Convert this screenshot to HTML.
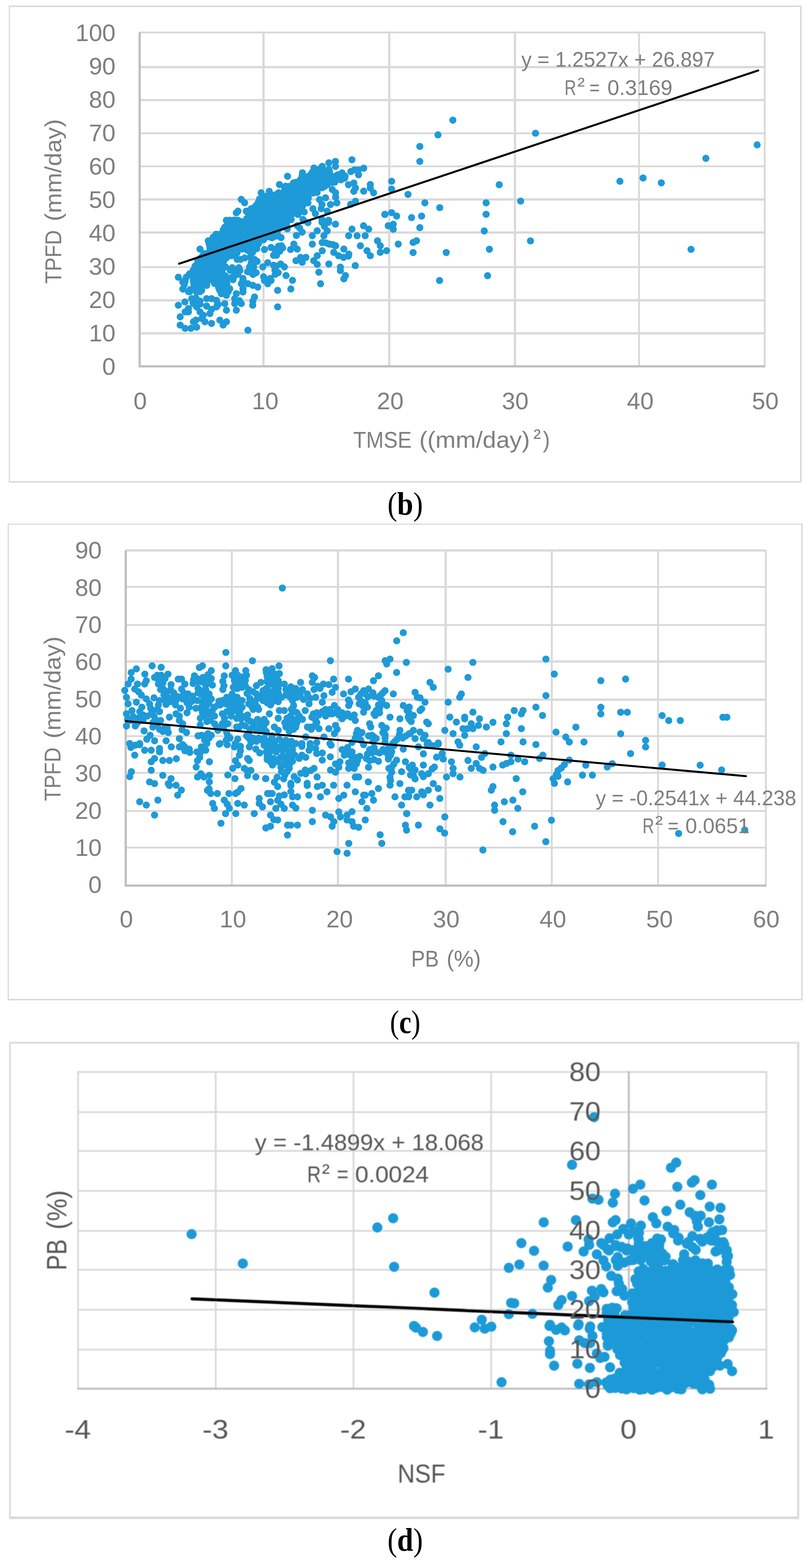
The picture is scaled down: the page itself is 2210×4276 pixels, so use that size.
<!DOCTYPE html>
<html lang="en">
<head>
<meta charset="utf-8">
<title>Scatter plots (b), (c), (d)</title>
<style>
html,body{margin:0;padding:0;background:#fff;}
body{width:2210px;height:4276px;overflow:hidden;}
svg{display:block;}
text{font-family:"Liberation Sans",sans-serif;}
.t{fill:#7f7f7f;}
.d{fill:#575757;}
.cap{font-family:"Liberation Serif",serif;fill:#000;}
.b{font-weight:bold;}
</style>
</head>
<body>
<svg width="2210" height="4276" viewBox="0 0 2210 4276">
<rect width="2210" height="4276" fill="#fff"/>
<g id="chart-b">
<rect x="24" y="15" width="2163" height="4" fill="#d9d9d9"/>
<rect x="24" y="1312" width="2163" height="4" fill="#d9d9d9"/>
<rect x="24" y="15" width="3" height="1301" fill="#d9d9d9"/>
<rect x="2183" y="15" width="4" height="1301" fill="#d9d9d9"/>
<rect x="380" y="86" width="1707" height="5" fill="#d9d9d9"/>
<rect x="380" y="180" width="1707" height="6" fill="#d9d9d9"/>
<rect x="380" y="270" width="1707" height="6" fill="#d9d9d9"/>
<rect x="380" y="361" width="1707" height="5" fill="#d9d9d9"/>
<rect x="380" y="451" width="1707" height="5" fill="#d9d9d9"/>
<rect x="380" y="541" width="1707" height="6" fill="#d9d9d9"/>
<rect x="380" y="631" width="1707" height="6" fill="#d9d9d9"/>
<rect x="380" y="726" width="1707" height="5" fill="#d9d9d9"/>
<rect x="380" y="816" width="1707" height="6" fill="#d9d9d9"/>
<rect x="380" y="906" width="1707" height="6" fill="#d9d9d9"/>
<rect x="716" y="88" width="6" height="914" fill="#d9d9d9"/>
<rect x="1059" y="88" width="6" height="914" fill="#d9d9d9"/>
<rect x="1402" y="88" width="6" height="914" fill="#d9d9d9"/>
<rect x="1741" y="88" width="5" height="914" fill="#d9d9d9"/>
<rect x="2084" y="88" width="5" height="914" fill="#d9d9d9"/>
<rect x="378" y="88" width="6" height="914" fill="#bfbfbf"/>
<rect x="378" y="996" width="1709" height="6" fill="#bfbfbf"/>
<g fill="#1e9ad8" transform="translate(0 0.3)">
<circle cx="860.5" cy="463.6" r="9.7"/><circle cx="868.5" cy="463.1" r="9.7"/><circle cx="874.6" cy="459.3" r="9.7"/><circle cx="883.8" cy="465.4" r="9.7"/><circle cx="898.5" cy="465.7" r="9.7"/><circle cx="851.8" cy="469.6" r="9.7"/>
<circle cx="860.1" cy="470.6" r="9.7"/><circle cx="873" cy="471.2" r="9.7"/><circle cx="880.8" cy="473.6" r="9.7"/><circle cx="895.5" cy="470.9" r="9.7"/><circle cx="899.1" cy="467.9" r="9.7"/><circle cx="930.8" cy="473.2" r="9.7"/>
<circle cx="824.2" cy="479.5" r="9.7"/><circle cx="837.5" cy="481.8" r="9.7"/><circle cx="847" cy="476.6" r="9.7"/><circle cx="859.3" cy="476.9" r="9.7"/><circle cx="869.2" cy="477.6" r="9.7"/><circle cx="876" cy="481.9" r="9.7"/>
<circle cx="884.6" cy="477.4" r="9.7"/><circle cx="897.2" cy="481.5" r="9.7"/><circle cx="909.5" cy="481.2" r="9.7"/><circle cx="920.2" cy="479.9" r="9.7"/><circle cx="930.3" cy="477" r="9.7"/><circle cx="935.2" cy="480.1" r="9.7"/>
<circle cx="821.3" cy="488" r="9.7"/><circle cx="832.3" cy="486.2" r="9.7"/><circle cx="840.1" cy="489.5" r="9.7"/><circle cx="853.1" cy="488.8" r="9.7"/><circle cx="864.6" cy="489.4" r="9.7"/><circle cx="874.6" cy="486.7" r="9.7"/>
<circle cx="883.8" cy="490.8" r="9.7"/><circle cx="894.9" cy="487.3" r="9.7"/><circle cx="900.8" cy="491.6" r="9.7"/><circle cx="910.2" cy="492.1" r="9.7"/><circle cx="924.8" cy="486" r="9.7"/><circle cx="930.3" cy="490.2" r="9.7"/>
<circle cx="940.4" cy="485.8" r="9.7"/><circle cx="808" cy="496.6" r="9.7"/><circle cx="817.8" cy="497.3" r="9.7"/><circle cx="830.5" cy="499.4" r="9.7"/><circle cx="835.4" cy="500.2" r="9.7"/><circle cx="848.8" cy="499.3" r="9.7"/>
<circle cx="859.3" cy="496.6" r="9.7"/><circle cx="869.9" cy="500" r="9.7"/><circle cx="878.5" cy="499.2" r="9.7"/><circle cx="889" cy="496.6" r="9.7"/><circle cx="898.7" cy="494.3" r="9.7"/><circle cx="906" cy="497.1" r="9.7"/>
<circle cx="913.7" cy="496.3" r="9.7"/><circle cx="789.7" cy="507.8" r="9.7"/><circle cx="801.4" cy="508.8" r="9.7"/><circle cx="813.9" cy="502.9" r="9.7"/><circle cx="825.5" cy="509.1" r="9.7"/><circle cx="829.1" cy="508.8" r="9.7"/>
<circle cx="841.6" cy="505.9" r="9.7"/><circle cx="855.4" cy="504.2" r="9.7"/><circle cx="862.3" cy="509.1" r="9.7"/><circle cx="873.7" cy="505.8" r="9.7"/><circle cx="885.5" cy="508.2" r="9.7"/><circle cx="892.9" cy="503.3" r="9.7"/>
<circle cx="776.6" cy="513" r="9.7"/><circle cx="789.3" cy="513.8" r="9.7"/><circle cx="798.2" cy="518.1" r="9.7"/><circle cx="805.9" cy="515" r="9.7"/><circle cx="818.8" cy="517.7" r="9.7"/><circle cx="826.6" cy="513.8" r="9.7"/>
<circle cx="834.3" cy="517.3" r="9.7"/><circle cx="844.2" cy="511.8" r="9.7"/><circle cx="857.6" cy="514.6" r="9.7"/><circle cx="868.4" cy="513.3" r="9.7"/><circle cx="879.1" cy="511.7" r="9.7"/><circle cx="760.2" cy="525.3" r="9.7"/>
<circle cx="772.3" cy="525.3" r="9.7"/><circle cx="781.4" cy="522.3" r="9.7"/><circle cx="795.4" cy="524.6" r="9.7"/><circle cx="802.1" cy="523.7" r="9.7"/><circle cx="813.7" cy="524.9" r="9.7"/><circle cx="825" cy="522.8" r="9.7"/>
<circle cx="834.4" cy="524.6" r="9.7"/><circle cx="844.6" cy="525.6" r="9.7"/><circle cx="854.5" cy="526.1" r="9.7"/><circle cx="865.3" cy="524.4" r="9.7"/><circle cx="725.5" cy="535.5" r="9.7"/><circle cx="738.2" cy="530.3" r="9.7"/>
<circle cx="743.7" cy="531.9" r="9.7"/><circle cx="756.2" cy="534.2" r="9.7"/><circle cx="768.6" cy="532.9" r="9.7"/><circle cx="774.7" cy="529.7" r="9.7"/><circle cx="785.9" cy="530.4" r="9.7"/><circle cx="799.7" cy="532.2" r="9.7"/>
<circle cx="808.1" cy="535.6" r="9.7"/><circle cx="815.5" cy="532.4" r="9.7"/><circle cx="824.7" cy="534" r="9.7"/><circle cx="833.6" cy="534.4" r="9.7"/><circle cx="715.2" cy="541.2" r="9.7"/><circle cx="723.7" cy="539.6" r="9.7"/>
<circle cx="734.4" cy="538" r="9.7"/><circle cx="739.6" cy="538" r="9.7"/><circle cx="753.4" cy="542.3" r="9.7"/><circle cx="759.9" cy="540.1" r="9.7"/><circle cx="774.5" cy="541.5" r="9.7"/><circle cx="779.3" cy="538.9" r="9.7"/>
<circle cx="789.7" cy="538.2" r="9.7"/><circle cx="801.5" cy="537.8" r="9.7"/><circle cx="815.1" cy="540.3" r="9.7"/><circle cx="822.2" cy="541.8" r="9.7"/><circle cx="834" cy="543.1" r="9.7"/><circle cx="841.3" cy="539.6" r="9.7"/>
<circle cx="704.5" cy="551.8" r="9.7"/><circle cx="715.6" cy="552.3" r="9.7"/><circle cx="725.3" cy="550" r="9.7"/><circle cx="739.4" cy="547.3" r="9.7"/><circle cx="747.5" cy="546.5" r="9.7"/><circle cx="753.9" cy="547.3" r="9.7"/>
<circle cx="770.5" cy="552.6" r="9.7"/><circle cx="778.2" cy="548.2" r="9.7"/><circle cx="788.3" cy="551.2" r="9.7"/><circle cx="796.3" cy="550.2" r="9.7"/><circle cx="809.3" cy="546.1" r="9.7"/><circle cx="815" cy="549.3" r="9.7"/>
<circle cx="824.6" cy="548.7" r="9.7"/><circle cx="837.6" cy="547.2" r="9.7"/><circle cx="700.2" cy="559.9" r="9.7"/><circle cx="712.6" cy="561" r="9.7"/><circle cx="719.3" cy="560.3" r="9.7"/><circle cx="729.5" cy="558.5" r="9.7"/>
<circle cx="745.3" cy="554.7" r="9.7"/><circle cx="750.3" cy="556.8" r="9.7"/><circle cx="760.9" cy="555.1" r="9.7"/><circle cx="774.9" cy="560.4" r="9.7"/><circle cx="781.4" cy="557.2" r="9.7"/><circle cx="792.7" cy="555" r="9.7"/>
<circle cx="798.8" cy="561" r="9.7"/><circle cx="810.8" cy="558.2" r="9.7"/><circle cx="825.2" cy="561.6" r="9.7"/><circle cx="685.4" cy="569" r="9.7"/><circle cx="694.2" cy="565.4" r="9.7"/><circle cx="708.9" cy="565.1" r="9.7"/>
<circle cx="715.6" cy="567.2" r="9.7"/><circle cx="724.9" cy="569.7" r="9.7"/><circle cx="740.5" cy="563.6" r="9.7"/><circle cx="746.9" cy="568.7" r="9.7"/><circle cx="756.3" cy="569.9" r="9.7"/><circle cx="767.1" cy="564.7" r="9.7"/>
<circle cx="777.5" cy="567.9" r="9.7"/><circle cx="786.1" cy="568" r="9.7"/><circle cx="799.1" cy="567" r="9.7"/><circle cx="807.2" cy="569.3" r="9.7"/><circle cx="818.4" cy="567.1" r="9.7"/><circle cx="682.1" cy="577.4" r="9.7"/>
<circle cx="695.5" cy="573.1" r="9.7"/><circle cx="701.8" cy="577.3" r="9.7"/><circle cx="708.9" cy="573.8" r="9.7"/><circle cx="724.9" cy="573.1" r="9.7"/><circle cx="731.4" cy="574.2" r="9.7"/><circle cx="741.6" cy="572.6" r="9.7"/>
<circle cx="748.9" cy="579.1" r="9.7"/><circle cx="764" cy="577.2" r="9.7"/><circle cx="770.2" cy="573.9" r="9.7"/><circle cx="782.5" cy="573.8" r="9.7"/><circle cx="801.2" cy="574.5" r="9.7"/><circle cx="815.5" cy="576.4" r="9.7"/>
<circle cx="818.9" cy="574.9" r="9.7"/><circle cx="677.3" cy="581.2" r="9.7"/><circle cx="686.4" cy="582.5" r="9.7"/><circle cx="693.9" cy="581.9" r="9.7"/><circle cx="707.8" cy="581" r="9.7"/><circle cx="715.8" cy="583.8" r="9.7"/>
<circle cx="727.4" cy="581.8" r="9.7"/><circle cx="738.6" cy="582.6" r="9.7"/><circle cx="748.7" cy="585.5" r="9.7"/><circle cx="754.7" cy="582.2" r="9.7"/><circle cx="805.1" cy="581.1" r="9.7"/><circle cx="672.9" cy="596.2" r="9.7"/>
<circle cx="681.2" cy="593.5" r="9.7"/><circle cx="695.2" cy="594.9" r="9.7"/><circle cx="703" cy="593.9" r="9.7"/><circle cx="711.5" cy="592.4" r="9.7"/><circle cx="720.6" cy="595.3" r="9.7"/><circle cx="734.8" cy="592.2" r="9.7"/>
<circle cx="745" cy="589.8" r="9.7"/><circle cx="749.6" cy="593.1" r="9.7"/><circle cx="760.8" cy="592" r="9.7"/><circle cx="775.5" cy="590.6" r="9.7"/><circle cx="780" cy="591.1" r="9.7"/><circle cx="793.4" cy="591.2" r="9.7"/>
<circle cx="629.2" cy="601" r="9.7"/><circle cx="638.6" cy="600" r="9.7"/><circle cx="648.6" cy="600.5" r="9.7"/><circle cx="656" cy="603.5" r="9.7"/><circle cx="669.5" cy="604" r="9.7"/><circle cx="677.6" cy="601.2" r="9.7"/>
<circle cx="688.6" cy="602.6" r="9.7"/><circle cx="699.4" cy="603.8" r="9.7"/><circle cx="704.5" cy="600.8" r="9.7"/><circle cx="718.3" cy="599.8" r="9.7"/><circle cx="724.9" cy="598.3" r="9.7"/><circle cx="737.7" cy="604.8" r="9.7"/>
<circle cx="750.4" cy="599.1" r="9.7"/><circle cx="758.4" cy="601.1" r="9.7"/><circle cx="768" cy="601" r="9.7"/><circle cx="780.2" cy="605.1" r="9.7"/><circle cx="784" cy="603.2" r="9.7"/><circle cx="794.5" cy="598.5" r="9.7"/>
<circle cx="622" cy="609.8" r="9.7"/><circle cx="634.3" cy="609.7" r="9.7"/><circle cx="639" cy="610.8" r="9.7"/><circle cx="653.2" cy="611.3" r="9.7"/><circle cx="660.6" cy="613.5" r="9.7"/><circle cx="674.7" cy="613.9" r="9.7"/>
<circle cx="681.7" cy="612.7" r="9.7"/><circle cx="693.7" cy="608.1" r="9.7"/><circle cx="698.8" cy="608.1" r="9.7"/><circle cx="709.5" cy="607.4" r="9.7"/><circle cx="721.1" cy="612.2" r="9.7"/><circle cx="730.8" cy="610.5" r="9.7"/>
<circle cx="738.7" cy="608.4" r="9.7"/><circle cx="755.3" cy="607" r="9.7"/><circle cx="762.3" cy="612.6" r="9.7"/><circle cx="774.2" cy="612.1" r="9.7"/><circle cx="781.4" cy="612.5" r="9.7"/><circle cx="615.2" cy="618.5" r="9.7"/>
<circle cx="628.6" cy="616.9" r="9.7"/><circle cx="635.5" cy="620.3" r="9.7"/><circle cx="650.3" cy="617.9" r="9.7"/><circle cx="654.9" cy="618.1" r="9.7"/><circle cx="670.6" cy="616.6" r="9.7"/><circle cx="678.1" cy="618.3" r="9.7"/>
<circle cx="688.1" cy="617.1" r="9.7"/><circle cx="697.9" cy="621.8" r="9.7"/><circle cx="709.6" cy="620" r="9.7"/><circle cx="717.2" cy="619.6" r="9.7"/><circle cx="724.4" cy="621.5" r="9.7"/><circle cx="738.5" cy="618.8" r="9.7"/>
<circle cx="748.3" cy="618.5" r="9.7"/><circle cx="756.3" cy="617.2" r="9.7"/><circle cx="767.8" cy="619.6" r="9.7"/><circle cx="777.2" cy="615.8" r="9.7"/><circle cx="608.9" cy="626.7" r="9.7"/><circle cx="624.7" cy="630.1" r="9.7"/>
<circle cx="629.4" cy="625.6" r="9.7"/><circle cx="641.3" cy="630.3" r="9.7"/><circle cx="652.9" cy="630.6" r="9.7"/><circle cx="659.1" cy="631.2" r="9.7"/><circle cx="670.1" cy="628.7" r="9.7"/><circle cx="684.8" cy="629.4" r="9.7"/>
<circle cx="690" cy="629" r="9.7"/><circle cx="701.6" cy="624.4" r="9.7"/><circle cx="711" cy="626.5" r="9.7"/><circle cx="723" cy="626.3" r="9.7"/><circle cx="732.8" cy="629.2" r="9.7"/><circle cx="739.9" cy="625.2" r="9.7"/>
<circle cx="753.5" cy="627.6" r="9.7"/><circle cx="759.5" cy="625.1" r="9.7"/><circle cx="599.4" cy="639" r="9.7"/><circle cx="607.8" cy="636.8" r="9.7"/><circle cx="614.3" cy="639.3" r="9.7"/><circle cx="624.2" cy="635.6" r="9.7"/>
<circle cx="636.2" cy="638.1" r="9.7"/><circle cx="648.3" cy="635.4" r="9.7"/><circle cx="659.9" cy="639.7" r="9.7"/><circle cx="663.8" cy="637.4" r="9.7"/><circle cx="676.9" cy="635.5" r="9.7"/><circle cx="686.9" cy="635.2" r="9.7"/>
<circle cx="698.3" cy="637.2" r="9.7"/><circle cx="710.4" cy="639.8" r="9.7"/><circle cx="720.6" cy="635.8" r="9.7"/><circle cx="729.4" cy="637.6" r="9.7"/><circle cx="738.5" cy="640" r="9.7"/><circle cx="744.1" cy="636.2" r="9.7"/>
<circle cx="756.4" cy="637.6" r="9.7"/><circle cx="585.4" cy="645.4" r="9.7"/><circle cx="591.5" cy="646" r="9.7"/><circle cx="604.7" cy="648.5" r="9.7"/><circle cx="611.5" cy="641.8" r="9.7"/><circle cx="619.7" cy="647.4" r="9.7"/>
<circle cx="633.8" cy="646.7" r="9.7"/><circle cx="639.7" cy="645.4" r="9.7"/><circle cx="648.8" cy="642.5" r="9.7"/><circle cx="660.7" cy="648.5" r="9.7"/><circle cx="673.1" cy="647.6" r="9.7"/><circle cx="678.9" cy="644.6" r="9.7"/>
<circle cx="689.2" cy="643.5" r="9.7"/><circle cx="699.4" cy="648.1" r="9.7"/><circle cx="710.9" cy="645.1" r="9.7"/><circle cx="723.2" cy="647.9" r="9.7"/><circle cx="735.3" cy="645.7" r="9.7"/><circle cx="742.1" cy="648" r="9.7"/>
<circle cx="751.4" cy="643.8" r="9.7"/><circle cx="575.6" cy="655.2" r="9.7"/><circle cx="584.2" cy="657.3" r="9.7"/><circle cx="599.4" cy="652.7" r="9.7"/><circle cx="605.8" cy="656.1" r="9.7"/><circle cx="619.1" cy="654.9" r="9.7"/>
<circle cx="624" cy="655.8" r="9.7"/><circle cx="634" cy="654.8" r="9.7"/><circle cx="647.5" cy="656.9" r="9.7"/><circle cx="658.1" cy="650.6" r="9.7"/><circle cx="670.2" cy="655.7" r="9.7"/><circle cx="677.7" cy="650.4" r="9.7"/>
<circle cx="688.8" cy="653.3" r="9.7"/><circle cx="698.4" cy="657.3" r="9.7"/><circle cx="710" cy="650.9" r="9.7"/><circle cx="719.1" cy="653.5" r="9.7"/><circle cx="570.5" cy="664.2" r="9.7"/><circle cx="582.7" cy="660.9" r="9.7"/>
<circle cx="589.1" cy="664.9" r="9.7"/><circle cx="601.3" cy="664.1" r="9.7"/><circle cx="611.7" cy="663.4" r="9.7"/><circle cx="622.5" cy="665.9" r="9.7"/><circle cx="635" cy="662.3" r="9.7"/><circle cx="642" cy="660.7" r="9.7"/>
<circle cx="653.9" cy="659.8" r="9.7"/><circle cx="660.8" cy="665" r="9.7"/><circle cx="668.9" cy="664" r="9.7"/><circle cx="682.6" cy="663" r="9.7"/><circle cx="691" cy="660.2" r="9.7"/><circle cx="705.3" cy="664.5" r="9.7"/>
<circle cx="575.3" cy="674.5" r="9.7"/><circle cx="584.4" cy="674.4" r="9.7"/><circle cx="598.2" cy="668.3" r="9.7"/><circle cx="609.9" cy="668.5" r="9.7"/><circle cx="617.6" cy="668.6" r="9.7"/><circle cx="630.5" cy="670" r="9.7"/>
<circle cx="639.7" cy="668.2" r="9.7"/><circle cx="648.3" cy="668.3" r="9.7"/><circle cx="653.8" cy="671.8" r="9.7"/><circle cx="670.5" cy="672.6" r="9.7"/><circle cx="679.6" cy="673.3" r="9.7"/><circle cx="687.3" cy="668.3" r="9.7"/>
<circle cx="697.3" cy="669.1" r="9.7"/><circle cx="573.4" cy="679.7" r="9.7"/><circle cx="580.3" cy="682.7" r="9.7"/><circle cx="589.9" cy="677.6" r="9.7"/><circle cx="600.4" cy="679.9" r="9.7"/><circle cx="614.1" cy="678.8" r="9.7"/>
<circle cx="620.3" cy="681.1" r="9.7"/><circle cx="630.4" cy="680.2" r="9.7"/><circle cx="640.4" cy="682.6" r="9.7"/><circle cx="649.9" cy="678.1" r="9.7"/><circle cx="660.7" cy="678.8" r="9.7"/><circle cx="673.7" cy="681.2" r="9.7"/>
<circle cx="684.2" cy="680.3" r="9.7"/><circle cx="689.2" cy="681.9" r="9.7"/><circle cx="700.3" cy="678" r="9.7"/><circle cx="569" cy="688.9" r="9.7"/><circle cx="580.3" cy="685.8" r="9.7"/><circle cx="585.2" cy="685.7" r="9.7"/>
<circle cx="595.8" cy="690.5" r="9.7"/><circle cx="610.1" cy="688.7" r="9.7"/><circle cx="614.7" cy="687.5" r="9.7"/><circle cx="627.6" cy="687.3" r="9.7"/><circle cx="639.2" cy="692" r="9.7"/><circle cx="646.8" cy="689.4" r="9.7"/>
<circle cx="680.5" cy="685.4" r="9.7"/><circle cx="689" cy="688" r="9.7"/><circle cx="553" cy="697.1" r="9.7"/><circle cx="559.3" cy="697.4" r="9.7"/><circle cx="572" cy="698.4" r="9.7"/><circle cx="585.4" cy="695.9" r="9.7"/>
<circle cx="591.7" cy="694.5" r="9.7"/><circle cx="604.2" cy="695.6" r="9.7"/><circle cx="614.4" cy="699.5" r="9.7"/><circle cx="620.4" cy="700.2" r="9.7"/><circle cx="632.2" cy="696.9" r="9.7"/><circle cx="545.8" cy="704.5" r="9.7"/>
<circle cx="554.9" cy="707.1" r="9.7"/><circle cx="568.4" cy="709.2" r="9.7"/><circle cx="575.9" cy="709.1" r="9.7"/><circle cx="590" cy="704.6" r="9.7"/><circle cx="600.3" cy="706.9" r="9.7"/><circle cx="610.4" cy="708" r="9.7"/>
<circle cx="616" cy="704.6" r="9.7"/><circle cx="539.5" cy="711.7" r="9.7"/><circle cx="551.9" cy="711.4" r="9.7"/><circle cx="559.1" cy="714" r="9.7"/><circle cx="571.9" cy="712" r="9.7"/><circle cx="585.3" cy="717.3" r="9.7"/>
<circle cx="592" cy="715.4" r="9.7"/><circle cx="600.8" cy="718.2" r="9.7"/><circle cx="609.5" cy="713.4" r="9.7"/><circle cx="540.5" cy="721" r="9.7"/><circle cx="549.1" cy="722.3" r="9.7"/><circle cx="558.7" cy="726.7" r="9.7"/>
<circle cx="565.5" cy="724" r="9.7"/><circle cx="577.3" cy="723.5" r="9.7"/><circle cx="584.8" cy="724.4" r="9.7"/><circle cx="599.9" cy="724.7" r="9.7"/><circle cx="605.7" cy="725.7" r="9.7"/><circle cx="540.2" cy="733.7" r="9.7"/>
<circle cx="549" cy="733.6" r="9.7"/><circle cx="559.1" cy="734.6" r="9.7"/><circle cx="572.4" cy="732.8" r="9.7"/><circle cx="579.3" cy="729" r="9.7"/><circle cx="591.1" cy="735.6" r="9.7"/><circle cx="550.6" cy="737.5" r="9.7"/>
<circle cx="554.7" cy="740.1" r="9.7"/><circle cx="597.8" cy="741.5" r="9.7"/><circle cx="1461" cy="363.1" r="9.7"/><circle cx="1420.5" cy="548.2" r="9.7"/><circle cx="1447.3" cy="656.6" r="9.7"/><circle cx="1691.3" cy="494" r="9.7"/>
<circle cx="1754.5" cy="485.1" r="9.7"/><circle cx="1804.4" cy="498.3" r="9.7"/><circle cx="1925.9" cy="431.5" r="9.7"/><circle cx="2065.8" cy="394.7" r="9.7"/><circle cx="1885.4" cy="679.7" r="9.7"/><circle cx="1235.6" cy="327.3" r="9.7"/>
<circle cx="1195" cy="367.5" r="9.7"/><circle cx="1145.4" cy="399.1" r="9.7"/><circle cx="1145.4" cy="440" r="9.7"/><circle cx="1068.5" cy="494.1" r="9.7"/><circle cx="1068.5" cy="515.4" r="9.7"/><circle cx="1113.2" cy="529.8" r="9.7"/>
<circle cx="1362.1" cy="503.4" r="9.7"/><circle cx="1159.2" cy="552.9" r="9.7"/><circle cx="1199.8" cy="566.1" r="9.7"/><circle cx="1326.3" cy="552.9" r="9.7"/><circle cx="1050.4" cy="584.1" r="9.7"/><circle cx="1068.5" cy="579.6" r="9.7"/>
<circle cx="1082.3" cy="589" r="9.7"/><circle cx="1122.9" cy="593.2" r="9.7"/><circle cx="1150.2" cy="589" r="9.7"/><circle cx="1326.3" cy="584.1" r="9.7"/><circle cx="1059.2" cy="615.4" r="9.7"/><circle cx="1073" cy="611.2" r="9.7"/>
<circle cx="1073" cy="624.7" r="9.7"/><circle cx="1145.4" cy="620.5" r="9.7"/><circle cx="1321.2" cy="629.5" r="9.7"/><circle cx="1030" cy="656.3" r="9.7"/><circle cx="1037.5" cy="669.8" r="9.7"/><circle cx="1037.5" cy="687.8" r="9.7"/>
<circle cx="1054.9" cy="683.3" r="9.7"/><circle cx="1086.5" cy="665.3" r="9.7"/><circle cx="1127.1" cy="660.8" r="9.7"/><circle cx="1136.4" cy="656.3" r="9.7"/><circle cx="1127.1" cy="688.4" r="9.7"/><circle cx="1217.5" cy="688.4" r="9.7"/>
<circle cx="1335.3" cy="679.4" r="9.7"/><circle cx="1199.3" cy="764.7" r="9.7"/><circle cx="1330.3" cy="751.5" r="9.7"/><circle cx="960.3" cy="435.3" r="9.7"/><circle cx="915.2" cy="439.8" r="9.7"/><circle cx="897.2" cy="443.7" r="9.7"/>
<circle cx="915.2" cy="453.4" r="9.7"/><circle cx="879.2" cy="453.4" r="9.7"/><circle cx="856.6" cy="457.9" r="9.7"/><circle cx="897.2" cy="461.7" r="9.7"/><circle cx="825.1" cy="470.9" r="9.7"/><circle cx="784.5" cy="480.4" r="9.7"/>
<circle cx="992.3" cy="458.3" r="9.7"/><circle cx="977.6" cy="462.8" r="9.7"/><circle cx="967.5" cy="462.8" r="9.7"/><circle cx="957.4" cy="467.3" r="9.7"/><circle cx="978.3" cy="476.3" r="9.7"/><circle cx="933.2" cy="471.2" r="9.7"/>
<circle cx="941.6" cy="479.7" r="9.7"/><circle cx="921.3" cy="476.3" r="9.7"/><circle cx="762.4" cy="502.9" r="9.7"/><circle cx="779.3" cy="507.5" r="9.7"/><circle cx="800.7" cy="498.4" r="9.7"/><circle cx="819.9" cy="489.9" r="9.7"/>
<circle cx="965.3" cy="498.9" r="9.7"/><circle cx="969.8" cy="512.4" r="9.7"/><circle cx="965.3" cy="521.4" r="9.7"/><circle cx="950.6" cy="503.4" r="9.7"/><circle cx="1010.3" cy="502.9" r="9.7"/><circle cx="1010.3" cy="512.4" r="9.7"/>
<circle cx="1019.3" cy="525.5" r="9.7"/><circle cx="992.3" cy="521" r="9.7"/><circle cx="906.6" cy="516.5" r="9.7"/><circle cx="915.7" cy="525.5" r="9.7"/><circle cx="915.7" cy="537.2" r="9.7"/><circle cx="919" cy="553" r="9.7"/>
<circle cx="901.7" cy="557.5" r="9.7"/><circle cx="969.8" cy="548.5" r="9.7"/><circle cx="956.7" cy="557" r="9.7"/><circle cx="1049.8" cy="584.5" r="9.7"/><circle cx="888.2" cy="539" r="9.7"/><circle cx="871.7" cy="544" r="9.7"/>
<circle cx="878.5" cy="557" r="9.7"/><circle cx="876.2" cy="568.8" r="9.7"/><circle cx="892.7" cy="575.5" r="9.7"/><circle cx="853.7" cy="568.8" r="9.7"/><circle cx="860.4" cy="582.3" r="9.7"/><circle cx="840.2" cy="553" r="9.7"/>
<circle cx="833.4" cy="553" r="9.7"/><circle cx="830" cy="577.8" r="9.7"/><circle cx="813.1" cy="584.5" r="9.7"/><circle cx="795.1" cy="582.3" r="9.7"/><circle cx="826.6" cy="598.1" r="9.7"/><circle cx="878.5" cy="598.1" r="9.7"/>
<circle cx="896.5" cy="600.3" r="9.7"/><circle cx="658.3" cy="543.5" r="9.7"/><circle cx="667.4" cy="552.5" r="9.7"/><circle cx="712.4" cy="525.5" r="9.7"/><circle cx="734.5" cy="521.4" r="9.7"/><circle cx="753" cy="530.4" r="9.7"/>
<circle cx="707.9" cy="542.8" r="9.7"/><circle cx="698.9" cy="559.7" r="9.7"/><circle cx="649.3" cy="575.5" r="9.7"/><circle cx="644.8" cy="580" r="9.7"/><circle cx="671.9" cy="575.5" r="9.7"/><circle cx="617.8" cy="600.3" r="9.7"/>
<circle cx="626.8" cy="600.3" r="9.7"/><circle cx="644.8" cy="600.3" r="9.7"/><circle cx="617.8" cy="601.3" r="9.7"/><circle cx="613.3" cy="619.3" r="9.7"/><circle cx="589.6" cy="638.5" r="9.7"/><circle cx="581.7" cy="646.3" r="9.7"/>
<circle cx="568.2" cy="656.5" r="9.7"/><circle cx="572.7" cy="673.4" r="9.7"/><circle cx="545.6" cy="679" r="9.7"/><circle cx="556.9" cy="691.4" r="9.7"/><circle cx="532.1" cy="725.2" r="9.7"/><circle cx="486.6" cy="755.7" r="9.7"/>
<circle cx="505.1" cy="763.6" r="9.7"/><circle cx="516.3" cy="747.8" r="9.7"/><circle cx="527.6" cy="743.3" r="9.7"/><circle cx="721.5" cy="680.2" r="9.7"/><circle cx="739.5" cy="674.5" r="9.7"/><circle cx="760" cy="671.1" r="9.7"/>
<circle cx="746.3" cy="695.9" r="9.7"/><circle cx="730.5" cy="716.2" r="9.7"/><circle cx="716.9" cy="727.5" r="9.7"/><circle cx="694.4" cy="707.2" r="9.7"/><circle cx="685.4" cy="716.2" r="9.7"/><circle cx="680.9" cy="727.5" r="9.7"/>
<circle cx="685.4" cy="743.3" r="9.7"/><circle cx="698.9" cy="743.3" r="9.7"/><circle cx="719.2" cy="754.5" r="9.7"/><circle cx="746.3" cy="723" r="9.7"/><circle cx="750.8" cy="747.8" r="9.7"/><circle cx="737.2" cy="759" r="9.7"/>
<circle cx="662.9" cy="759" r="9.7"/><circle cx="656.1" cy="707.2" r="9.7"/><circle cx="647.1" cy="707.2" r="9.7"/><circle cx="633.6" cy="729.7" r="9.7"/><circle cx="651.6" cy="729.7" r="9.7"/><circle cx="640.3" cy="743.3" r="9.7"/>
<circle cx="649.3" cy="747.8" r="9.7"/><circle cx="631.3" cy="756.8" r="9.7"/><circle cx="617.8" cy="756.8" r="9.7"/><circle cx="604.3" cy="759" r="9.7"/><circle cx="586.2" cy="761.3" r="9.7"/><circle cx="568.2" cy="763.6" r="9.7"/>
<circle cx="545.6" cy="756.8" r="9.7"/><circle cx="527.6" cy="761.3" r="9.7"/><circle cx="828.9" cy="601.3" r="9.7"/><circle cx="840.2" cy="606.9" r="9.7"/><circle cx="810.9" cy="614.8" r="9.7"/><circle cx="817.6" cy="621.6" r="9.7"/>
<circle cx="824.4" cy="632.8" r="9.7"/><circle cx="808.6" cy="641.8" r="9.7"/><circle cx="783.8" cy="623.8" r="9.7"/><circle cx="878.5" cy="605.8" r="9.7"/><circle cx="885.2" cy="617" r="9.7"/><circle cx="896.5" cy="605.8" r="9.7"/>
<circle cx="915.2" cy="611" r="9.7"/><circle cx="865.4" cy="629" r="9.7"/><circle cx="852.1" cy="642.5" r="9.7"/><circle cx="892.7" cy="629.4" r="9.7"/><circle cx="883.7" cy="642.5" r="9.7"/><circle cx="759" cy="643" r="9.7"/>
<circle cx="766.9" cy="647.5" r="9.7"/><circle cx="852.1" cy="665.5" r="9.7"/><circle cx="879.2" cy="661" r="9.7"/><circle cx="889.7" cy="662.1" r="9.7"/><circle cx="898.8" cy="665.5" r="9.7"/><circle cx="907.8" cy="666.6" r="9.7"/>
<circle cx="915.7" cy="670" r="9.7"/><circle cx="768" cy="670" r="9.7"/><circle cx="771.4" cy="675.6" r="9.7"/><circle cx="763.5" cy="684.7" r="9.7"/><circle cx="754.5" cy="695.9" r="9.7"/><circle cx="750" cy="680.2" r="9.7"/>
<circle cx="801.8" cy="665.5" r="9.7"/><circle cx="792.8" cy="680.2" r="9.7"/><circle cx="810.9" cy="679" r="9.7"/><circle cx="938.2" cy="679" r="9.7"/><circle cx="910.7" cy="688" r="9.7"/><circle cx="879.2" cy="683.5" r="9.7"/>
<circle cx="923.6" cy="697.1" r="9.7"/><circle cx="937.1" cy="701.6" r="9.7"/><circle cx="951.7" cy="692.6" r="9.7"/><circle cx="950.6" cy="698.2" r="9.7"/><circle cx="865.6" cy="697.1" r="9.7"/><circle cx="855.9" cy="710.6" r="9.7"/>
<circle cx="865.6" cy="720.7" r="9.7"/><circle cx="897.2" cy="719.6" r="9.7"/><circle cx="819.9" cy="701.6" r="9.7"/><circle cx="834.5" cy="701.6" r="9.7"/><circle cx="807.5" cy="710.6" r="9.7"/><circle cx="824.4" cy="715.1" r="9.7"/>
<circle cx="765.8" cy="719.6" r="9.7"/><circle cx="775.9" cy="727.5" r="9.7"/><circle cx="754.5" cy="725.2" r="9.7"/><circle cx="759" cy="743.3" r="9.7"/><circle cx="750" cy="736.5" r="9.7"/><circle cx="780.4" cy="751.2" r="9.7"/>
<circle cx="798" cy="764.2" r="9.7"/><circle cx="870.1" cy="742.1" r="9.7"/><circle cx="928.7" cy="728.2" r="9.7"/><circle cx="928.7" cy="737.6" r="9.7"/><circle cx="942.7" cy="751.2" r="9.7"/><circle cx="938.2" cy="760.2" r="9.7"/>
<circle cx="969.3" cy="724.1" r="9.7"/><circle cx="960.3" cy="624.5" r="9.7"/><circle cx="951.3" cy="642.5" r="9.7"/><circle cx="974.3" cy="642.5" r="9.7"/><circle cx="991.8" cy="615.5" r="9.7"/><circle cx="1005.8" cy="624.5" r="9.7"/>
<circle cx="996.4" cy="642.5" r="9.7"/><circle cx="983.3" cy="670" r="9.7"/><circle cx="1001.3" cy="683.5" r="9.7"/><circle cx="1010.3" cy="697.1" r="9.7"/><circle cx="505.1" cy="766.8" r="9.7"/><circle cx="502.8" cy="775.8" r="9.7"/>
<circle cx="499.4" cy="788.2" r="9.7"/><circle cx="514.1" cy="794.9" r="9.7"/><circle cx="518.6" cy="789.3" r="9.7"/><circle cx="532.1" cy="778" r="9.7"/><circle cx="543.4" cy="766.8" r="9.7"/><circle cx="563.7" cy="778" r="9.7"/>
<circle cx="550.2" cy="791.6" r="9.7"/><circle cx="536.6" cy="796.1" r="9.7"/><circle cx="527.6" cy="766.8" r="9.7"/><circle cx="586.2" cy="771.3" r="9.7"/><circle cx="599.7" cy="766.8" r="9.7"/><circle cx="617.8" cy="769" r="9.7"/>
<circle cx="604.3" cy="782.5" r="9.7"/><circle cx="626.8" cy="787" r="9.7"/><circle cx="599.7" cy="791.6" r="9.7"/><circle cx="608.8" cy="798.3" r="9.7"/><circle cx="617.8" cy="805.1" r="9.7"/><circle cx="635.8" cy="762.3" r="9.7"/>
<circle cx="658.3" cy="773.5" r="9.7"/><circle cx="662.9" cy="764.5" r="9.7"/><circle cx="676.4" cy="773.5" r="9.7"/><circle cx="689.9" cy="778" r="9.7"/><circle cx="703.4" cy="782.5" r="9.7"/><circle cx="662.9" cy="787" r="9.7"/>
<circle cx="662.9" cy="796.1" r="9.7"/><circle cx="644.8" cy="800.6" r="9.7"/><circle cx="721.5" cy="764.5" r="9.7"/><circle cx="730.5" cy="773.5" r="9.7"/><circle cx="739.5" cy="764.5" r="9.7"/><circle cx="757.5" cy="791.6" r="9.7"/>
<circle cx="757.5" cy="836.6" r="9.7"/><circle cx="694.4" cy="809.6" r="9.7"/><circle cx="689.9" cy="820.9" r="9.7"/><circle cx="689.5" cy="832.1" r="9.7"/><circle cx="640.3" cy="814.1" r="9.7"/><circle cx="640.3" cy="827.6" r="9.7"/>
<circle cx="653.8" cy="820.9" r="9.7"/><circle cx="658.3" cy="827.6" r="9.7"/><circle cx="644.8" cy="845.6" r="9.7"/><circle cx="613.3" cy="827.6" r="9.7"/><circle cx="617.8" cy="845.6" r="9.7"/><circle cx="486.6" cy="832.1" r="9.7"/>
<circle cx="504.6" cy="823.1" r="9.7"/><circle cx="523.1" cy="814.1" r="9.7"/><circle cx="534.4" cy="816.3" r="9.7"/><circle cx="545.6" cy="820.9" r="9.7"/><circle cx="563.7" cy="814.1" r="9.7"/><circle cx="577.2" cy="814.1" r="9.7"/>
<circle cx="590.7" cy="818.6" r="9.7"/><circle cx="595.2" cy="829.9" r="9.7"/><circle cx="590.7" cy="836.6" r="9.7"/><circle cx="577.2" cy="843.4" r="9.7"/><circle cx="563.7" cy="834.4" r="9.7"/><circle cx="527.6" cy="827.6" r="9.7"/>
<circle cx="536.6" cy="836.6" r="9.7"/><circle cx="514.1" cy="841.1" r="9.7"/><circle cx="505.1" cy="850.2" r="9.7"/><circle cx="514.1" cy="850.2" r="9.7"/><circle cx="491.6" cy="863.7" r="9.7"/><circle cx="545.6" cy="850.2" r="9.7"/>
<circle cx="554.7" cy="859.2" r="9.7"/><circle cx="572.7" cy="854.7" r="9.7"/><circle cx="550.2" cy="868.2" r="9.7"/><circle cx="559.2" cy="877.2" r="9.7"/><circle cx="491.6" cy="886.2" r="9.7"/><circle cx="505.1" cy="895.2" r="9.7"/>
<circle cx="520.9" cy="895.2" r="9.7"/><circle cx="536.6" cy="891.9" r="9.7"/><circle cx="527.6" cy="877.2" r="9.7"/><circle cx="534.4" cy="872.7" r="9.7"/><circle cx="577.2" cy="881.7" r="9.7"/><circle cx="599.7" cy="872.7" r="9.7"/>
<circle cx="617.8" cy="877.2" r="9.7"/><circle cx="608.8" cy="886.2" r="9.7"/><circle cx="676.4" cy="900.2" r="9.7"/><circle cx="793.5" cy="787.7" r="9.7"/><circle cx="874.6" cy="773.5" r="9.7"/><circle cx="536.3" cy="746.3" r="9.7"/>
<circle cx="551.4" cy="744.5" r="9.7"/><circle cx="564.5" cy="746.3" r="9.7"/><circle cx="577.7" cy="746.3" r="9.7"/><circle cx="592.7" cy="744.5" r="9.7"/><circle cx="605.8" cy="740.7" r="9.7"/><circle cx="536.3" cy="759.5" r="9.7"/>
<circle cx="551.4" cy="759.5" r="9.7"/><circle cx="564.5" cy="759.5" r="9.7"/><circle cx="577.7" cy="761.4" r="9.7"/><circle cx="592.7" cy="761.4" r="9.7"/><circle cx="607.7" cy="761.4" r="9.7"/><circle cx="615.2" cy="752" r="9.7"/>
<circle cx="615.2" cy="727.6" r="9.7"/><circle cx="527" cy="737" r="9.7"/><circle cx="542" cy="733.2" r="9.7"/><circle cx="558.9" cy="733.2" r="9.7"/><circle cx="573.9" cy="733.2" r="9.7"/><circle cx="588.9" cy="731.3" r="9.7"/>
<circle cx="602.1" cy="727.6" r="9.7"/><circle cx="592.7" cy="774.5" r="9.7"/><circle cx="611.5" cy="774.5" r="9.7"/><circle cx="619" cy="772.6" r="9.7"/><circle cx="609.6" cy="787.7" r="9.7"/><circle cx="622.7" cy="795.2" r="9.7"/>
<circle cx="604" cy="800.8" r="9.7"/><circle cx="585.2" cy="772.6" r="9.7"/><circle cx="596.5" cy="783.9" r="9.7"/><circle cx="517.6" cy="746.3" r="9.7"/><circle cx="508.2" cy="755.7" r="9.7"/><circle cx="528.8" cy="752" r="9.7"/>
<circle cx="498.8" cy="768.9" r="9.7"/><circle cx="528.8" cy="774.5" r="9.7"/><circle cx="542" cy="778.3" r="9.7"/><circle cx="555.1" cy="778.3" r="9.7"/><circle cx="534.5" cy="791.4" r="9.7"/><circle cx="517.6" cy="795.2" r="9.7"/>
<circle cx="545.7" cy="795.2" r="9.7"/><circle cx="498.8" cy="787.7" r="9.7"/><circle cx="555.1" cy="768.9" r="9.7"/><circle cx="564.5" cy="772.6" r="9.7"/><circle cx="641.5" cy="735.1" r="9.7"/><circle cx="628.4" cy="737" r="9.7"/>
<circle cx="654.7" cy="737" r="9.7"/><circle cx="639.7" cy="752" r="9.7"/><circle cx="667.8" cy="703.1" r="9.7"/><circle cx="682.9" cy="701.3" r="9.7"/><circle cx="701.6" cy="712.5" r="9.7"/><circle cx="692.2" cy="727.6" r="9.7"/>
<circle cx="690.4" cy="748.2" r="9.7"/><circle cx="675.3" cy="740.7" r="9.7"/><circle cx="534.5" cy="812.1" r="9.7"/><circle cx="527" cy="825.2" r="9.7"/><circle cx="545.7" cy="829" r="9.7"/><circle cx="592.7" cy="832.7" r="9.7"/>
<circle cx="652.8" cy="819.6" r="9.7"/>
</g>
<line x1="488.6" y1="719.2" x2="2068.6" y2="192.1" stroke="#000" stroke-width="5.5" stroke-linecap="round"/>
<text class="t" x="315.3" y="112.1" font-size="65.5" text-anchor="end">100</text>
<text class="t" x="315.3" y="203.1" font-size="65.5" text-anchor="end">90</text>
<text class="t" x="315.3" y="294.1" font-size="65.5" text-anchor="end">80</text>
<text class="t" x="315.3" y="385.1" font-size="65.5" text-anchor="end">70</text>
<text class="t" x="315.3" y="476.1" font-size="65.5" text-anchor="end">60</text>
<text class="t" x="315.3" y="567.1" font-size="65.5" text-anchor="end">50</text>
<text class="t" x="315.3" y="658.1" font-size="65.5" text-anchor="end">40</text>
<text class="t" x="315.3" y="749.1" font-size="65.5" text-anchor="end">30</text>
<text class="t" x="315.3" y="840.1" font-size="65.5" text-anchor="end">20</text>
<text class="t" x="315.3" y="931.1" font-size="65.5" text-anchor="end">10</text>
<text class="t" x="315.3" y="1022.1" font-size="65.5" text-anchor="end">0</text>
<text class="t" x="382.5" y="1116.4" font-size="65.5" text-anchor="middle">0</text>
<text class="t" x="723.6" y="1116.4" font-size="65.5" text-anchor="middle">10</text>
<text class="t" x="1064.7" y="1116.4" font-size="65.5" text-anchor="middle">20</text>
<text class="t" x="1405.8" y="1116.4" font-size="65.5" text-anchor="middle">30</text>
<text class="t" x="1746.9" y="1116.4" font-size="65.5" text-anchor="middle">40</text>
<text class="t" x="2088" y="1116.4" font-size="65.5" text-anchor="middle">50</text>
<text class="t" y="1221" font-size="62.5"><tspan x="963.8" textLength="159.6" lengthAdjust="spacingAndGlyphs">TMSE</tspan> <tspan x="1144" textLength="301.7" lengthAdjust="spacingAndGlyphs">((mm/day)</tspan><tspan x="1455.4" textLength="20.2" lengthAdjust="spacingAndGlyphs" dy="-7">²</tspan><tspan x="1481.2" textLength="19.3" lengthAdjust="spacingAndGlyphs" dy="7">)</tspan></text>
<text class="t" transform="translate(166.7 772.9) rotate(-90)" font-size="62.5"><tspan x="-0.9" textLength="146.4" lengthAdjust="spacingAndGlyphs">TPFD</tspan> <tspan x="169.6" textLength="278.6" lengthAdjust="spacingAndGlyphs">(mm/day)</tspan></text>
<text class="t" x="1686.5" y="182" font-size="57" text-anchor="middle" textLength="528" lengthAdjust="spacingAndGlyphs">y = 1.2527x + 26.897</text>
<text class="t" y="258.8" font-size="57"><tspan x="1540.3" textLength="31.8" lengthAdjust="spacingAndGlyphs">R</tspan><tspan x="1575.6" textLength="20.1" lengthAdjust="spacingAndGlyphs" dy="-7">²</tspan> <tspan x="1607.9" textLength="28.5" lengthAdjust="spacingAndGlyphs" dy="7">=</tspan> <tspan x="1657.2" textLength="177.5" lengthAdjust="spacingAndGlyphs">0.3169</tspan></text>
</g>
<text class="cap" x="1105.5" y="1404.4" font-size="88" text-anchor="middle" textLength="96.7" lengthAdjust="spacingAndGlyphs">(<tspan class="b">b</tspan>)</text>
<g id="chart-c">
<rect x="21" y="1428" width="2169" height="3" fill="#d9d9d9"/>
<rect x="21" y="2724" width="2169" height="4" fill="#d9d9d9"/>
<rect x="21" y="1428" width="3" height="1300" fill="#d9d9d9"/>
<rect x="2186" y="1428" width="4" height="1300" fill="#d9d9d9"/>
<rect x="342" y="1498" width="1748" height="6" fill="#d9d9d9"/>
<rect x="342" y="1598" width="1748" height="5" fill="#d9d9d9"/>
<rect x="342" y="1702" width="1748" height="5" fill="#d9d9d9"/>
<rect x="342" y="1801" width="1748" height="6" fill="#d9d9d9"/>
<rect x="342" y="1905" width="1748" height="6" fill="#d9d9d9"/>
<rect x="342" y="2005" width="1748" height="5" fill="#d9d9d9"/>
<rect x="342" y="2105" width="1748" height="5" fill="#d9d9d9"/>
<rect x="342" y="2209" width="1748" height="5" fill="#d9d9d9"/>
<rect x="342" y="2309" width="1748" height="5" fill="#d9d9d9"/>
<rect x="630" y="1501" width="5" height="917" fill="#d9d9d9"/>
<rect x="919" y="1501" width="6" height="917" fill="#d9d9d9"/>
<rect x="1213" y="1501" width="6" height="917" fill="#d9d9d9"/>
<rect x="1503" y="1501" width="5" height="917" fill="#d9d9d9"/>
<rect x="1793" y="1501" width="5" height="917" fill="#d9d9d9"/>
<rect x="2087" y="1501" width="5" height="917" fill="#d9d9d9"/>
<rect x="340" y="1501" width="6" height="917" fill="#bfbfbf"/>
<rect x="340" y="2412" width="1750" height="6" fill="#bfbfbf"/>
<g fill="#1e9ad8" transform="translate(0 0.3)">
<circle cx="770.3" cy="1603.3" r="9.7"/><circle cx="616.3" cy="1779.1" r="9.7"/><circle cx="688.8" cy="1801.6" r="9.7"/><circle cx="1100.3" cy="1725.1" r="9.7"/><circle cx="1082.4" cy="1747.2" r="9.7"/><circle cx="901.5" cy="1801.4" r="9.7"/>
<circle cx="1064" cy="1797.1" r="9.7"/><circle cx="1050.9" cy="1801.4" r="9.7"/><circle cx="1055.1" cy="1810.3" r="9.7"/><circle cx="1108.7" cy="1806.1" r="9.7"/><circle cx="1290.2" cy="1806.1" r="9.7"/><circle cx="1489.5" cy="1797.1" r="9.7"/>
<circle cx="1512.2" cy="1837.9" r="9.7"/><circle cx="1639.3" cy="1856" r="9.7"/><circle cx="1706.9" cy="1851.5" r="9.7"/><circle cx="1639.3" cy="1928.5" r="9.7"/><circle cx="1639.3" cy="1946.6" r="9.7"/><circle cx="1693.4" cy="1942.1" r="9.7"/>
<circle cx="1711.4" cy="1942.1" r="9.7"/><circle cx="1806.5" cy="1951.1" r="9.7"/><circle cx="1824.6" cy="1964.6" r="9.7"/><circle cx="1856.1" cy="1964.6" r="9.7"/><circle cx="1972.4" cy="1955.6" r="9.7"/><circle cx="1983.2" cy="1955.6" r="9.7"/>
<circle cx="1571.2" cy="1982.6" r="9.7"/><circle cx="1517.1" cy="1996.2" r="9.7"/><circle cx="1543.7" cy="2009.7" r="9.7"/><circle cx="1553.2" cy="2023.2" r="9.7"/><circle cx="1593.3" cy="2023.2" r="9.7"/><circle cx="1693.4" cy="2000.7" r="9.7"/>
<circle cx="1761.5" cy="2018.7" r="9.7"/><circle cx="1761.5" cy="2036.7" r="9.7"/><circle cx="1720.4" cy="2054.8" r="9.7"/><circle cx="1553.2" cy="2072.5" r="9.7"/><circle cx="1539.7" cy="2085.1" r="9.7"/><circle cx="1531.6" cy="2094.1" r="9.7"/>
<circle cx="1522.5" cy="2100.9" r="9.7"/><circle cx="1518" cy="2112.1" r="9.7"/><circle cx="1509" cy="2123.4" r="9.7"/><circle cx="1512.6" cy="2136" r="9.7"/><circle cx="1522.5" cy="2116.6" r="9.7"/><circle cx="1598.3" cy="2086.4" r="9.7"/>
<circle cx="1589.3" cy="2113.5" r="9.7"/><circle cx="1616.3" cy="2113.5" r="9.7"/><circle cx="1548.7" cy="2132" r="9.7"/><circle cx="1656.9" cy="2091.4" r="9.7"/><circle cx="1670.4" cy="2082.4" r="9.7"/><circle cx="1806.5" cy="2086" r="9.7"/>
<circle cx="1910.2" cy="2086.4" r="9.7"/><circle cx="1968.8" cy="2099.5" r="9.7"/><circle cx="1504.5" cy="2236.5" r="9.7"/><circle cx="1851.6" cy="2272.6" r="9.7"/><circle cx="2031.9" cy="2263.1" r="9.7"/><circle cx="415" cy="1815.5" r="9.7"/>
<circle cx="439.7" cy="1819.5" r="9.7"/><circle cx="372.1" cy="1823.7" r="9.7"/><circle cx="552.4" cy="1815.5" r="9.7"/><circle cx="544" cy="1820.1" r="9.7"/><circle cx="616.1" cy="1815.5" r="9.7"/><circle cx="576.4" cy="1828.5" r="9.7"/>
<circle cx="642.5" cy="1828.5" r="9.7"/><circle cx="670.5" cy="1828.5" r="9.7"/><circle cx="357.9" cy="1833.6" r="9.7"/><circle cx="395.2" cy="1838.1" r="9.7"/><circle cx="458.3" cy="1838.1" r="9.7"/><circle cx="439.7" cy="1841.1" r="9.7"/>
<circle cx="421.7" cy="1847.1" r="9.7"/><circle cx="530.5" cy="1842.6" r="9.7"/><circle cx="567.4" cy="1839.6" r="9.7"/><circle cx="553.9" cy="1847.1" r="9.7"/><circle cx="611.9" cy="1842.6" r="9.7"/><circle cx="648.6" cy="1841.1" r="9.7"/>
<circle cx="662.1" cy="1845.6" r="9.7"/><circle cx="726.7" cy="1833.6" r="9.7"/><circle cx="357.9" cy="1851.6" r="9.7"/><circle cx="349.5" cy="1865.1" r="9.7"/><circle cx="399.1" cy="1856.1" r="9.7"/><circle cx="375.1" cy="1865.1" r="9.7"/>
<circle cx="394.6" cy="1865.1" r="9.7"/><circle cx="432.2" cy="1865.1" r="9.7"/><circle cx="444.2" cy="1862.1" r="9.7"/><circle cx="486.3" cy="1851.6" r="9.7"/><circle cx="495.3" cy="1851.6" r="9.7"/><circle cx="466.7" cy="1866.6" r="9.7"/>
<circle cx="504.3" cy="1865.1" r="9.7"/><circle cx="526.8" cy="1863.6" r="9.7"/><circle cx="540.4" cy="1859.1" r="9.7"/><circle cx="570.4" cy="1854.6" r="9.7"/><circle cx="579.4" cy="1868.1" r="9.7"/><circle cx="608" cy="1857.6" r="9.7"/>
<circle cx="611" cy="1869.6" r="9.7"/><circle cx="639.5" cy="1854.6" r="9.7"/><circle cx="642.5" cy="1866.6" r="9.7"/><circle cx="669.6" cy="1854.6" r="9.7"/><circle cx="669.6" cy="1869.6" r="9.7"/><circle cx="699.6" cy="1869.6" r="9.7"/>
<circle cx="711.7" cy="1860.6" r="9.7"/><circle cx="728.2" cy="1857.6" r="9.7"/><circle cx="340.5" cy="1882.3" r="9.7"/><circle cx="367.6" cy="1878.7" r="9.7"/><circle cx="378.1" cy="1886.2" r="9.7"/><circle cx="445.7" cy="1878.7" r="9.7"/>
<circle cx="456.2" cy="1886.2" r="9.7"/><circle cx="474.3" cy="1889.2" r="9.7"/><circle cx="495.3" cy="1878.7" r="9.7"/><circle cx="513.3" cy="1892.2" r="9.7"/><circle cx="549.4" cy="1883.2" r="9.7"/><circle cx="561.4" cy="1880.2" r="9.7"/>
<circle cx="608" cy="1880.2" r="9.7"/><circle cx="633.5" cy="1892.2" r="9.7"/><circle cx="645.6" cy="1877.2" r="9.7"/><circle cx="660.6" cy="1874.1" r="9.7"/><circle cx="674.1" cy="1890.7" r="9.7"/><circle cx="690.6" cy="1886.2" r="9.7"/>
<circle cx="717.7" cy="1883.2" r="9.7"/><circle cx="726.7" cy="1877.2" r="9.7"/><circle cx="345" cy="1901.2" r="9.7"/><circle cx="385.6" cy="1895.2" r="9.7"/><circle cx="399.1" cy="1905.7" r="9.7"/><circle cx="420.2" cy="1902.7" r="9.7"/>
<circle cx="447.2" cy="1895.2" r="9.7"/><circle cx="459.2" cy="1902.7" r="9.7"/><circle cx="486.3" cy="1899.7" r="9.7"/><circle cx="498.3" cy="1905.7" r="9.7"/><circle cx="525.3" cy="1898.2" r="9.7"/><circle cx="537.4" cy="1910.2" r="9.7"/>
<circle cx="549.4" cy="1895.2" r="9.7"/><circle cx="561.4" cy="1904.2" r="9.7"/><circle cx="576.4" cy="1905.7" r="9.7"/><circle cx="597.5" cy="1911.7" r="9.7"/><circle cx="618.5" cy="1901.2" r="9.7"/><circle cx="647.1" cy="1901.2" r="9.7"/>
<circle cx="660.6" cy="1910.2" r="9.7"/><circle cx="690.6" cy="1911.7" r="9.7"/><circle cx="702.7" cy="1904.2" r="9.7"/><circle cx="723.7" cy="1898.2" r="9.7"/><circle cx="730" cy="1910.2" r="9.7"/><circle cx="349.5" cy="1919.2" r="9.7"/>
<circle cx="372.1" cy="1914.7" r="9.7"/><circle cx="387.1" cy="1928.2" r="9.7"/><circle cx="408.1" cy="1919.2" r="9.7"/><circle cx="411.1" cy="1931.2" r="9.7"/><circle cx="432.2" cy="1922.2" r="9.7"/><circle cx="453.2" cy="1920.7" r="9.7"/>
<circle cx="478.8" cy="1922.2" r="9.7"/><circle cx="492.3" cy="1931.2" r="9.7"/><circle cx="516.3" cy="1928.2" r="9.7"/><circle cx="534.4" cy="1931.2" r="9.7"/><circle cx="552.4" cy="1919.2" r="9.7"/><circle cx="561.4" cy="1928.2" r="9.7"/>
<circle cx="579.4" cy="1937.3" r="9.7"/><circle cx="600.5" cy="1922.2" r="9.7"/><circle cx="627.5" cy="1931.2" r="9.7"/><circle cx="642.5" cy="1922.2" r="9.7"/><circle cx="660.6" cy="1928.2" r="9.7"/><circle cx="686.1" cy="1925.2" r="9.7"/>
<circle cx="702.7" cy="1928.2" r="9.7"/><circle cx="345" cy="1946.3" r="9.7"/><circle cx="360.1" cy="1937.3" r="9.7"/><circle cx="381.1" cy="1940.3" r="9.7"/><circle cx="390.1" cy="1949.3" r="9.7"/><circle cx="414.1" cy="1943.3" r="9.7"/>
<circle cx="435.2" cy="1940.3" r="9.7"/><circle cx="480.3" cy="1946.3" r="9.7"/><circle cx="462.2" cy="1955.3" r="9.7"/><circle cx="489.3" cy="1952.3" r="9.7"/><circle cx="510.3" cy="1943.3" r="9.7"/><circle cx="552.4" cy="1943.3" r="9.7"/>
<circle cx="570.4" cy="1946.3" r="9.7"/><circle cx="606.5" cy="1946.3" r="9.7"/><circle cx="633.5" cy="1940.3" r="9.7"/><circle cx="651.6" cy="1946.3" r="9.7"/><circle cx="675.6" cy="1949.3" r="9.7"/><circle cx="657.6" cy="1959.8" r="9.7"/>
<circle cx="612.5" cy="1958.3" r="9.7"/><circle cx="546.4" cy="1958.3" r="9.7"/><circle cx="423.2" cy="1961.3" r="9.7"/><circle cx="438.2" cy="1964.3" r="9.7"/><circle cx="489.3" cy="1964.3" r="9.7"/><circle cx="498.3" cy="1973.3" r="9.7"/>
<circle cx="546.4" cy="1976.3" r="9.7"/><circle cx="573.4" cy="1964.3" r="9.7"/><circle cx="585.4" cy="1973.3" r="9.7"/><circle cx="606.5" cy="1973.3" r="9.7"/><circle cx="621.5" cy="1973.3" r="9.7"/><circle cx="684.6" cy="1967.3" r="9.7"/>
<circle cx="702.7" cy="1961.3" r="9.7"/><circle cx="720.7" cy="1961.3" r="9.7"/><circle cx="653.1" cy="1982.3" r="9.7"/><circle cx="669.6" cy="1979.3" r="9.7"/><circle cx="690.6" cy="1982.3" r="9.7"/><circle cx="711.7" cy="1976.3" r="9.7"/>
<circle cx="345" cy="1979.3" r="9.7"/><circle cx="369.1" cy="1979.3" r="9.7"/><circle cx="417.2" cy="1982.3" r="9.7"/><circle cx="435.2" cy="1988.3" r="9.7"/><circle cx="450.2" cy="1982.3" r="9.7"/><circle cx="459.2" cy="1997.4" r="9.7"/>
<circle cx="393.1" cy="1992.9" r="9.7"/><circle cx="496.8" cy="1989.8" r="9.7"/><circle cx="508.8" cy="1997.4" r="9.7"/><circle cx="594.5" cy="1991.4" r="9.7"/><circle cx="567.4" cy="2000.4" r="9.7"/><circle cx="549.4" cy="2004.9" r="9.7"/>
<circle cx="576.4" cy="2004.9" r="9.7"/><circle cx="714.7" cy="1989.8" r="9.7"/><circle cx="726.7" cy="1997.4" r="9.7"/><circle cx="678.6" cy="2000.4" r="9.7"/><circle cx="409.6" cy="2004.9" r="9.7"/><circle cx="400.6" cy="2015.4" r="9.7"/>
<circle cx="421.7" cy="2019.9" r="9.7"/><circle cx="453.2" cy="2019.9" r="9.7"/><circle cx="489.3" cy="2013.9" r="9.7"/><circle cx="621.5" cy="2006.4" r="9.7"/><circle cx="617" cy="2018.4" r="9.7"/><circle cx="648.6" cy="2015.4" r="9.7"/>
<circle cx="678.6" cy="2012.4" r="9.7"/><circle cx="705.7" cy="2012.4" r="9.7"/><circle cx="714.7" cy="2018.4" r="9.7"/><circle cx="354" cy="2027.4" r="9.7"/><circle cx="381.1" cy="2027.4" r="9.7"/><circle cx="558.4" cy="2018.4" r="9.7"/>
<circle cx="564.4" cy="2027.4" r="9.7"/><circle cx="600.5" cy="2027.4" r="9.7"/><circle cx="498.3" cy="2030.4" r="9.7"/><circle cx="642.5" cy="2027.4" r="9.7"/><circle cx="363.1" cy="1953.8" r="9.7"/><circle cx="375.1" cy="1958.3" r="9.7"/>
<circle cx="357" cy="1964.3" r="9.7"/><circle cx="390.1" cy="1964.3" r="9.7"/><circle cx="375.1" cy="1970.3" r="9.7"/><circle cx="348" cy="1961.3" r="9.7"/><circle cx="402.1" cy="1952.3" r="9.7"/><circle cx="420.2" cy="1952.3" r="9.7"/>
<circle cx="429.2" cy="1934.3" r="9.7"/><circle cx="417.2" cy="1970.3" r="9.7"/><circle cx="438.2" cy="1880.2" r="9.7"/><circle cx="450.2" cy="1889.2" r="9.7"/><circle cx="465.2" cy="1880.2" r="9.7"/><circle cx="471.2" cy="1901.2" r="9.7"/>
<circle cx="435.2" cy="1910.2" r="9.7"/><circle cx="450.2" cy="1910.2" r="9.7"/><circle cx="465.2" cy="1913.2" r="9.7"/><circle cx="480.3" cy="1910.2" r="9.7"/><circle cx="507.3" cy="1904.2" r="9.7"/><circle cx="510.3" cy="1916.2" r="9.7"/>
<circle cx="522.3" cy="1913.2" r="9.7"/><circle cx="501.3" cy="1889.2" r="9.7"/><circle cx="540.4" cy="1889.2" r="9.7"/><circle cx="540.4" cy="1877.2" r="9.7"/><circle cx="558.4" cy="1892.2" r="9.7"/><circle cx="570.4" cy="1892.2" r="9.7"/>
<circle cx="555.4" cy="1910.2" r="9.7"/><circle cx="570.4" cy="1919.2" r="9.7"/><circle cx="546.4" cy="1931.2" r="9.7"/><circle cx="564.4" cy="1940.3" r="9.7"/><circle cx="558.4" cy="1952.3" r="9.7"/><circle cx="585.4" cy="1928.2" r="9.7"/>
<circle cx="585.4" cy="1952.3" r="9.7"/><circle cx="564.4" cy="1967.3" r="9.7"/><circle cx="606.5" cy="1910.2" r="9.7"/><circle cx="615.5" cy="1919.2" r="9.7"/><circle cx="594.5" cy="1922.2" r="9.7"/><circle cx="630.5" cy="1910.2" r="9.7"/>
<circle cx="630.5" cy="1901.2" r="9.7"/><circle cx="642.5" cy="1910.2" r="9.7"/><circle cx="654.6" cy="1922.2" r="9.7"/><circle cx="630.5" cy="1922.2" r="9.7"/><circle cx="642.5" cy="1934.3" r="9.7"/><circle cx="654.6" cy="1937.3" r="9.7"/>
<circle cx="630.5" cy="1952.3" r="9.7"/><circle cx="645.6" cy="1958.3" r="9.7"/><circle cx="660.6" cy="1952.3" r="9.7"/><circle cx="618.5" cy="1940.3" r="9.7"/><circle cx="678.6" cy="1880.2" r="9.7"/><circle cx="699.6" cy="1892.2" r="9.7"/>
<circle cx="714.7" cy="1895.2" r="9.7"/><circle cx="681.6" cy="1904.2" r="9.7"/><circle cx="678.6" cy="1919.2" r="9.7"/><circle cx="696.6" cy="1919.2" r="9.7"/><circle cx="690.6" cy="1934.3" r="9.7"/><circle cx="705.7" cy="1934.3" r="9.7"/>
<circle cx="717.7" cy="1910.2" r="9.7"/><circle cx="726.7" cy="1889.2" r="9.7"/><circle cx="675.6" cy="1961.3" r="9.7"/><circle cx="690.6" cy="1970.3" r="9.7"/><circle cx="705.7" cy="1970.3" r="9.7"/><circle cx="720.7" cy="1976.3" r="9.7"/>
<circle cx="699.6" cy="1988.3" r="9.7"/><circle cx="681.6" cy="1988.3" r="9.7"/><circle cx="660.6" cy="1976.3" r="9.7"/><circle cx="645.6" cy="1982.3" r="9.7"/><circle cx="720.7" cy="1988.3" r="9.7"/><circle cx="651.6" cy="1856.1" r="9.7"/>
<circle cx="657.6" cy="1865.1" r="9.7"/><circle cx="648.6" cy="1877.2" r="9.7"/><circle cx="636.5" cy="1874.1" r="9.7"/><circle cx="672.6" cy="1841.1" r="9.7"/><circle cx="633.5" cy="1841.1" r="9.7"/><circle cx="537.4" cy="1850.1" r="9.7"/>
<circle cx="549.4" cy="1859.1" r="9.7"/><circle cx="564.4" cy="1856.1" r="9.7"/><circle cx="561.4" cy="1868.1" r="9.7"/><circle cx="528.3" cy="1853.1" r="9.7"/><circle cx="576.4" cy="1850.1" r="9.7"/><circle cx="432.2" cy="1853.1" r="9.7"/>
<circle cx="450.2" cy="1850.1" r="9.7"/><circle cx="429.2" cy="1841.1" r="9.7"/><circle cx="429.2" cy="1976.3" r="9.7"/><circle cx="444.2" cy="1994.4" r="9.7"/><circle cx="456.2" cy="1985.3" r="9.7"/><circle cx="540.4" cy="2006.4" r="9.7"/>
<circle cx="558.4" cy="2006.4" r="9.7"/><circle cx="570.4" cy="2012.4" r="9.7"/><circle cx="591.5" cy="1982.3" r="9.7"/><circle cx="609.5" cy="1985.3" r="9.7"/><circle cx="618.5" cy="1997.4" r="9.7"/><circle cx="627.5" cy="2012.4" r="9.7"/>
<circle cx="672.6" cy="2006.4" r="9.7"/><circle cx="690.6" cy="2012.4" r="9.7"/><circle cx="699.6" cy="2021.4" r="9.7"/><circle cx="720.7" cy="2012.4" r="9.7"/><circle cx="684.6" cy="2024.4" r="9.7"/><circle cx="761.2" cy="1815.5" r="9.7"/>
<circle cx="742.5" cy="1823.1" r="9.7"/><circle cx="1082.1" cy="1833.6" r="9.7"/><circle cx="762.1" cy="1836.6" r="9.7"/><circle cx="750.1" cy="1838.1" r="9.7"/><circle cx="852.2" cy="1842.6" r="9.7"/><circle cx="858.2" cy="1847.1" r="9.7"/>
<circle cx="910.2" cy="1851.6" r="9.7"/><circle cx="950.8" cy="1851.6" r="9.7"/><circle cx="1032.5" cy="1842.6" r="9.7"/><circle cx="1019" cy="1856.1" r="9.7"/><circle cx="820.1" cy="1860.6" r="9.7"/><circle cx="775.6" cy="1865.1" r="9.7"/>
<circle cx="750.1" cy="1859.1" r="9.7"/><circle cx="738" cy="1865.1" r="9.7"/><circle cx="852.2" cy="1860.6" r="9.7"/><circle cx="882.3" cy="1865.1" r="9.7"/><circle cx="897.3" cy="1866.6" r="9.7"/><circle cx="867.3" cy="1871.1" r="9.7"/>
<circle cx="915.3" cy="1874.1" r="9.7"/><circle cx="793.6" cy="1872.6" r="9.7"/><circle cx="807.2" cy="1877.2" r="9.7"/><circle cx="759.1" cy="1877.2" r="9.7"/><circle cx="750.1" cy="1889.2" r="9.7"/><circle cx="789.1" cy="1886.2" r="9.7"/>
<circle cx="801.1" cy="1889.2" r="9.7"/><circle cx="819.2" cy="1892.2" r="9.7"/><circle cx="838.7" cy="1892.2" r="9.7"/><circle cx="856.7" cy="1880.2" r="9.7"/><circle cx="873.3" cy="1877.2" r="9.7"/><circle cx="906.3" cy="1887.7" r="9.7"/>
<circle cx="969.4" cy="1878.7" r="9.7"/><circle cx="957.4" cy="1886.2" r="9.7"/><circle cx="937.3" cy="1892.2" r="9.7"/><circle cx="992" cy="1883.2" r="9.7"/><circle cx="1005.5" cy="1878.7" r="9.7"/><circle cx="1017.5" cy="1889.2" r="9.7"/>
<circle cx="1050.6" cy="1883.2" r="9.7"/><circle cx="1044.6" cy="1889.2" r="9.7"/><circle cx="1073.1" cy="1892.2" r="9.7"/><circle cx="732" cy="1901.2" r="9.7"/><circle cx="753.1" cy="1901.2" r="9.7"/><circle cx="768.1" cy="1901.2" r="9.7"/>
<circle cx="792.1" cy="1901.2" r="9.7"/><circle cx="810.2" cy="1901.2" r="9.7"/><circle cx="828.2" cy="1907.2" r="9.7"/><circle cx="861.2" cy="1901.2" r="9.7"/><circle cx="883.8" cy="1896.7" r="9.7"/><circle cx="879.3" cy="1914.7" r="9.7"/>
<circle cx="950.8" cy="1908.7" r="9.7"/><circle cx="978.5" cy="1901.2" r="9.7"/><circle cx="1004" cy="1899.7" r="9.7"/><circle cx="1032.5" cy="1901.2" r="9.7"/><circle cx="1041.6" cy="1910.2" r="9.7"/><circle cx="843.2" cy="1919.2" r="9.7"/>
<circle cx="738" cy="1922.2" r="9.7"/><circle cx="801.1" cy="1923.7" r="9.7"/><circle cx="832.7" cy="1937.3" r="9.7"/><circle cx="912.3" cy="1923.7" r="9.7"/><circle cx="888.3" cy="1934.3" r="9.7"/><circle cx="900.3" cy="1934.3" r="9.7"/>
<circle cx="921.4" cy="1934.3" r="9.7"/><circle cx="864.3" cy="1943.3" r="9.7"/><circle cx="951.4" cy="1923.7" r="9.7"/><circle cx="980" cy="1919.2" r="9.7"/><circle cx="996.5" cy="1916.2" r="9.7"/><circle cx="1002.5" cy="1928.2" r="9.7"/>
<circle cx="1032.5" cy="1922.2" r="9.7"/><circle cx="1055.1" cy="1923.7" r="9.7"/><circle cx="1026.5" cy="1937.3" r="9.7"/><circle cx="1100.2" cy="1923.7" r="9.7"/><circle cx="1116.7" cy="1928.2" r="9.7"/><circle cx="992" cy="1941.8" r="9.7"/>
<circle cx="735" cy="1946.3" r="9.7"/><circle cx="762.1" cy="1937.3" r="9.7"/><circle cx="775.6" cy="1937.3" r="9.7"/><circle cx="759.1" cy="1958.3" r="9.7"/><circle cx="804.1" cy="1940.3" r="9.7"/><circle cx="792.1" cy="1952.3" r="9.7"/>
<circle cx="816.2" cy="1952.3" r="9.7"/><circle cx="825.2" cy="1961.3" r="9.7"/><circle cx="850.7" cy="1955.3" r="9.7"/><circle cx="870.3" cy="1949.3" r="9.7"/><circle cx="888.3" cy="1952.3" r="9.7"/><circle cx="906.3" cy="1946.3" r="9.7"/>
<circle cx="933.4" cy="1943.3" r="9.7"/><circle cx="948.4" cy="1946.3" r="9.7"/><circle cx="966.4" cy="1949.3" r="9.7"/><circle cx="933.4" cy="1959.8" r="9.7"/><circle cx="969.4" cy="1964.3" r="9.7"/><circle cx="1023.5" cy="1950.8" r="9.7"/>
<circle cx="1035.6" cy="1943.3" r="9.7"/><circle cx="1064.1" cy="1955.3" r="9.7"/><circle cx="1091.1" cy="1959.8" r="9.7"/><circle cx="1116.7" cy="1946.3" r="9.7"/><circle cx="1116.7" cy="1961.3" r="9.7"/><circle cx="726" cy="1970.3" r="9.7"/>
<circle cx="786.1" cy="1967.3" r="9.7"/><circle cx="798.1" cy="1973.3" r="9.7"/><circle cx="864.3" cy="1970.3" r="9.7"/><circle cx="915.3" cy="1977.8" r="9.7"/><circle cx="1008.5" cy="1973.3" r="9.7"/><circle cx="1011.5" cy="1982.3" r="9.7"/>
<circle cx="1041.6" cy="1977.8" r="9.7"/><circle cx="1053.6" cy="1985.3" r="9.7"/><circle cx="748.5" cy="1982.3" r="9.7"/><circle cx="759.1" cy="1991.4" r="9.7"/><circle cx="780.1" cy="1982.3" r="9.7"/><circle cx="801.1" cy="1988.3" r="9.7"/>
<circle cx="789.1" cy="1994.4" r="9.7"/><circle cx="838.7" cy="1982.3" r="9.7"/><circle cx="849.2" cy="1988.3" r="9.7"/><circle cx="870.3" cy="1986.8" r="9.7"/><circle cx="897.3" cy="1986.8" r="9.7"/><circle cx="919.8" cy="1988.3" r="9.7"/>
<circle cx="912.3" cy="2000.4" r="9.7"/><circle cx="975.4" cy="1991.4" r="9.7"/><circle cx="987.5" cy="1997.4" r="9.7"/><circle cx="1044.6" cy="1997.4" r="9.7"/><circle cx="1050.6" cy="2003.4" r="9.7"/><circle cx="1091.1" cy="1991.4" r="9.7"/>
<circle cx="1116.7" cy="2000.4" r="9.7"/><circle cx="726" cy="1994.4" r="9.7"/><circle cx="742.5" cy="2006.4" r="9.7"/><circle cx="834.2" cy="2009.4" r="9.7"/><circle cx="883.8" cy="2009.4" r="9.7"/><circle cx="762.1" cy="2015.4" r="9.7"/>
<circle cx="780.1" cy="2018.4" r="9.7"/><circle cx="795.1" cy="2021.4" r="9.7"/><circle cx="729" cy="2024.4" r="9.7"/><circle cx="823.7" cy="2027.4" r="9.7"/><circle cx="846.2" cy="2027.4" r="9.7"/><circle cx="864.3" cy="2024.4" r="9.7"/>
<circle cx="900.3" cy="2027.4" r="9.7"/><circle cx="978.5" cy="2012.4" r="9.7"/><circle cx="1014.5" cy="2004.9" r="9.7"/><circle cx="1026.5" cy="2013.9" r="9.7"/><circle cx="1017.5" cy="2021.4" r="9.7"/><circle cx="960.4" cy="2024.4" r="9.7"/>
<circle cx="1050.6" cy="2024.4" r="9.7"/><circle cx="1083.6" cy="2015.4" r="9.7"/><circle cx="1098.7" cy="2012.4" r="9.7"/><circle cx="1071.6" cy="2027.4" r="9.7"/><circle cx="729" cy="1844.1" r="9.7"/><circle cx="738" cy="1850.1" r="9.7"/>
<circle cx="759.1" cy="1856.1" r="9.7"/><circle cx="726" cy="1880.2" r="9.7"/><circle cx="738" cy="1886.2" r="9.7"/><circle cx="750.1" cy="1910.2" r="9.7"/><circle cx="729" cy="1916.2" r="9.7"/><circle cx="1489.6" cy="1896.7" r="9.7"/>
<circle cx="1222.7" cy="1824.6" r="9.7"/><circle cx="1276.8" cy="1847.1" r="9.7"/><circle cx="1173.1" cy="1860.6" r="9.7"/><circle cx="1182.1" cy="1874.1" r="9.7"/><circle cx="1132.5" cy="1887.7" r="9.7"/><circle cx="1138.5" cy="1901.2" r="9.7"/>
<circle cx="1146.1" cy="1902.7" r="9.7"/><circle cx="1159.6" cy="1914.7" r="9.7"/><circle cx="1258.8" cy="1892.2" r="9.7"/><circle cx="1254.3" cy="1901.2" r="9.7"/><circle cx="1222.7" cy="1914.7" r="9.7"/><circle cx="1116" cy="1928.2" r="9.7"/>
<circle cx="1146.1" cy="1937.3" r="9.7"/><circle cx="1150.6" cy="1932.7" r="9.7"/><circle cx="1116" cy="1943.3" r="9.7"/><circle cx="1128" cy="1950.8" r="9.7"/><circle cx="1122" cy="1967.3" r="9.7"/><circle cx="1164.1" cy="1968.8" r="9.7"/>
<circle cx="1168.6" cy="1973.3" r="9.7"/><circle cx="1227.2" cy="1955.3" r="9.7"/><circle cx="1245.2" cy="1968.8" r="9.7"/><circle cx="1267.8" cy="1955.3" r="9.7"/><circle cx="1267.8" cy="1959.8" r="9.7"/><circle cx="1290.3" cy="1941.8" r="9.7"/>
<circle cx="1308.3" cy="1959.8" r="9.7"/><circle cx="1285.8" cy="1973.3" r="9.7"/><circle cx="1305.3" cy="1977.8" r="9.7"/><circle cx="1290.3" cy="1986.8" r="9.7"/><circle cx="1275.3" cy="1986.8" r="9.7"/><circle cx="1263.3" cy="1986.8" r="9.7"/>
<circle cx="1327" cy="1982.3" r="9.7"/><circle cx="1345" cy="1969.4" r="9.7"/><circle cx="1385" cy="1955.3" r="9.7"/><circle cx="1381.4" cy="1973.3" r="9.7"/><circle cx="1381.4" cy="2000.4" r="9.7"/><circle cx="1403" cy="1937.3" r="9.7"/>
<circle cx="1422.5" cy="1946.3" r="9.7"/><circle cx="1427.1" cy="1937.3" r="9.7"/><circle cx="1422.5" cy="1986.8" r="9.7"/><circle cx="1462.2" cy="1928.2" r="9.7"/><circle cx="1480.2" cy="1950.8" r="9.7"/><circle cx="1213.7" cy="1991.4" r="9.7"/>
<circle cx="1236.2" cy="2000.4" r="9.7"/><circle cx="1267.8" cy="2004.9" r="9.7"/><circle cx="1128" cy="1991.4" r="9.7"/><circle cx="1146.1" cy="1995.9" r="9.7"/><circle cx="1119" cy="2000.4" r="9.7"/><circle cx="1159.6" cy="2004.9" r="9.7"/>
<circle cx="1132.5" cy="2013.9" r="9.7"/><circle cx="1155.1" cy="2013.9" r="9.7"/><circle cx="1168.6" cy="2024.4" r="9.7"/><circle cx="1195.6" cy="2025.9" r="9.7"/><circle cx="1249.7" cy="2022.9" r="9.7"/><circle cx="1366.9" cy="2022.9" r="9.7"/>
<circle cx="1427.1" cy="2022.9" r="9.7"/><circle cx="1462.2" cy="2030.1" r="9.7"/><circle cx="357" cy="2038" r="9.7"/><circle cx="369.1" cy="2032" r="9.7"/><circle cx="381.1" cy="2030.5" r="9.7"/><circle cx="394.6" cy="2045.5" r="9.7"/>
<circle cx="412.6" cy="2045.5" r="9.7"/><circle cx="435.2" cy="2041" r="9.7"/><circle cx="435.2" cy="2050.1" r="9.7"/><circle cx="467.3" cy="2036.5" r="9.7"/><circle cx="489.3" cy="2036.5" r="9.7"/><circle cx="502.8" cy="2035" r="9.7"/>
<circle cx="504.3" cy="2047" r="9.7"/><circle cx="516.3" cy="2042.5" r="9.7"/><circle cx="517.8" cy="2051.6" r="9.7"/><circle cx="537.4" cy="2050.1" r="9.7"/><circle cx="549.4" cy="2036.5" r="9.7"/><circle cx="561.4" cy="2045.5" r="9.7"/>
<circle cx="546.4" cy="2053.1" r="9.7"/><circle cx="598.4" cy="2029" r="9.7"/><circle cx="620" cy="2030.5" r="9.7"/><circle cx="639.5" cy="2036.5" r="9.7"/><circle cx="656.1" cy="2035" r="9.7"/><circle cx="656.1" cy="2047" r="9.7"/>
<circle cx="680.1" cy="2036.5" r="9.7"/><circle cx="698.1" cy="2042.5" r="9.7"/><circle cx="708.7" cy="2053.1" r="9.7"/><circle cx="720.7" cy="2032" r="9.7"/><circle cx="726.7" cy="2050.1" r="9.7"/><circle cx="730" cy="2062.1" r="9.7"/>
<circle cx="367.6" cy="2059.1" r="9.7"/><circle cx="421.7" cy="2068.1" r="9.7"/><circle cx="412.6" cy="2077.1" r="9.7"/><circle cx="444.2" cy="2073.5" r="9.7"/><circle cx="462.2" cy="2073.5" r="9.7"/><circle cx="481.2" cy="2068.7" r="9.7"/>
<circle cx="544.9" cy="2065.1" r="9.7"/><circle cx="538.9" cy="2074.1" r="9.7"/><circle cx="571.3" cy="2077.1" r="9.7"/><circle cx="653.1" cy="2059.1" r="9.7"/><circle cx="642.5" cy="2074.1" r="9.7"/><circle cx="675.6" cy="2068.1" r="9.7"/>
<circle cx="680.1" cy="2073.5" r="9.7"/><circle cx="412.6" cy="2100.2" r="9.7"/><circle cx="535.3" cy="2091.5" r="9.7"/><circle cx="648.6" cy="2086.1" r="9.7"/><circle cx="635" cy="2095.1" r="9.7"/><circle cx="666.6" cy="2095.1" r="9.7"/>
<circle cx="674.1" cy="2101.1" r="9.7"/><circle cx="684.6" cy="2100.5" r="9.7"/><circle cx="358.5" cy="2104.1" r="9.7"/><circle cx="354" cy="2117.7" r="9.7"/><circle cx="444.2" cy="2114.1" r="9.7"/><circle cx="466.7" cy="2123.1" r="9.7"/>
<circle cx="547.9" cy="2109.6" r="9.7"/><circle cx="538.9" cy="2118.6" r="9.7"/><circle cx="556.9" cy="2118.6" r="9.7"/><circle cx="571.3" cy="2114.1" r="9.7"/><circle cx="621.5" cy="2113.2" r="9.7"/><circle cx="641" cy="2123.1" r="9.7"/>
<circle cx="675.6" cy="2114.7" r="9.7"/><circle cx="698.1" cy="2118.6" r="9.7"/><circle cx="725.2" cy="2123.1" r="9.7"/><circle cx="408.1" cy="2132.1" r="9.7"/><circle cx="421.7" cy="2136.6" r="9.7"/><circle cx="459.2" cy="2136.6" r="9.7"/>
<circle cx="462.2" cy="2141.7" r="9.7"/><circle cx="480.3" cy="2141.1" r="9.7"/><circle cx="571.3" cy="2132.1" r="9.7"/><circle cx="494.7" cy="2154.3" r="9.7"/><circle cx="570.4" cy="2150.7" r="9.7"/><circle cx="565.9" cy="2155.2" r="9.7"/>
<circle cx="657.6" cy="2150.1" r="9.7"/><circle cx="484.8" cy="2168.2" r="9.7"/><circle cx="574.9" cy="2163.7" r="9.7"/><circle cx="593" cy="2163.7" r="9.7"/><circle cx="624.5" cy="2163.7" r="9.7"/><circle cx="642.5" cy="2163.7" r="9.7"/>
<circle cx="648.6" cy="2159.7" r="9.7"/><circle cx="730" cy="2163.7" r="9.7"/><circle cx="381.1" cy="2186.2" r="9.7"/><circle cx="399.1" cy="2195.2" r="9.7"/><circle cx="430.7" cy="2181.7" r="9.7"/><circle cx="580.3" cy="2190.7" r="9.7"/>
<circle cx="611.9" cy="2181.7" r="9.7"/><circle cx="620" cy="2192.8" r="9.7"/><circle cx="648.6" cy="2190.7" r="9.7"/><circle cx="666.6" cy="2195.2" r="9.7"/><circle cx="707.2" cy="2177.2" r="9.7"/><circle cx="707.2" cy="2190.7" r="9.7"/>
<circle cx="716.2" cy="2200.3" r="9.7"/><circle cx="584.8" cy="2204.2" r="9.7"/><circle cx="626" cy="2204.2" r="9.7"/><circle cx="615.5" cy="2218.3" r="9.7"/><circle cx="643.4" cy="2218.3" r="9.7"/><circle cx="693.6" cy="2218.3" r="9.7"/>
<circle cx="421.7" cy="2222.3" r="9.7"/><circle cx="602.9" cy="2244.8" r="9.7"/><circle cx="725.2" cy="2257.4" r="9.7"/><circle cx="735" cy="2035" r="9.7"/><circle cx="750.1" cy="2032" r="9.7"/><circle cx="765.1" cy="2035" r="9.7"/>
<circle cx="780.1" cy="2032" r="9.7"/><circle cx="798.1" cy="2033.5" r="9.7"/><circle cx="735" cy="2053.1" r="9.7"/><circle cx="753.1" cy="2050.1" r="9.7"/><circle cx="771.1" cy="2047" r="9.7"/><circle cx="789.1" cy="2050.1" r="9.7"/>
<circle cx="798.1" cy="2053.1" r="9.7"/><circle cx="823.7" cy="2035" r="9.7"/><circle cx="846.2" cy="2032" r="9.7"/><circle cx="843.2" cy="2045.5" r="9.7"/><circle cx="861.2" cy="2041" r="9.7"/><circle cx="864.3" cy="2054.6" r="9.7"/>
<circle cx="879.3" cy="2053.1" r="9.7"/><circle cx="903.3" cy="2032" r="9.7"/><circle cx="933.4" cy="2044" r="9.7"/><circle cx="948.4" cy="2038" r="9.7"/><circle cx="960.4" cy="2050.1" r="9.7"/><circle cx="948.4" cy="2056.1" r="9.7"/>
<circle cx="992" cy="2030.5" r="9.7"/><circle cx="1008.5" cy="2044" r="9.7"/><circle cx="1020.5" cy="2038" r="9.7"/><circle cx="1026.5" cy="2050.1" r="9.7"/><circle cx="1044.6" cy="2044" r="9.7"/><circle cx="1059.6" cy="2041" r="9.7"/>
<circle cx="1068.6" cy="2050.1" r="9.7"/><circle cx="1100.2" cy="2042.5" r="9.7"/><circle cx="1074.6" cy="2033.5" r="9.7"/><circle cx="729" cy="2062.1" r="9.7"/><circle cx="747" cy="2068.1" r="9.7"/><circle cx="765.1" cy="2065.1" r="9.7"/>
<circle cx="780.1" cy="2074.1" r="9.7"/><circle cx="798.1" cy="2075.6" r="9.7"/><circle cx="816.2" cy="2068.1" r="9.7"/><circle cx="823.7" cy="2059.1" r="9.7"/><circle cx="834.2" cy="2065.1" r="9.7"/><circle cx="879.3" cy="2072.6" r="9.7"/>
<circle cx="901.2" cy="2063.6" r="9.7"/><circle cx="927.4" cy="2077.1" r="9.7"/><circle cx="969.4" cy="2065.1" r="9.7"/><circle cx="981.5" cy="2062.1" r="9.7"/><circle cx="1002.5" cy="2056.1" r="9.7"/><circle cx="1008.5" cy="2074.1" r="9.7"/>
<circle cx="1032.5" cy="2075.6" r="9.7"/><circle cx="1059.6" cy="2062.1" r="9.7"/><circle cx="1059.6" cy="2069.6" r="9.7"/><circle cx="1082.1" cy="2072.6" r="9.7"/><circle cx="1106.2" cy="2077.1" r="9.7"/><circle cx="915.3" cy="2083.1" r="9.7"/>
<circle cx="951.4" cy="2080.1" r="9.7"/><circle cx="743.4" cy="2086.1" r="9.7"/><circle cx="766.6" cy="2092.1" r="9.7"/><circle cx="780.1" cy="2086.1" r="9.7"/><circle cx="789.1" cy="2095.1" r="9.7"/><circle cx="832.7" cy="2099.6" r="9.7"/>
<circle cx="856.7" cy="2095.1" r="9.7"/><circle cx="847.7" cy="2101.1" r="9.7"/><circle cx="901.8" cy="2099.6" r="9.7"/><circle cx="924.4" cy="2092.1" r="9.7"/><circle cx="951.4" cy="2095.1" r="9.7"/><circle cx="966.4" cy="2095.1" r="9.7"/>
<circle cx="972.4" cy="2083.1" r="9.7"/><circle cx="1005.5" cy="2092.1" r="9.7"/><circle cx="1061.1" cy="2095.1" r="9.7"/><circle cx="1074.6" cy="2083.1" r="9.7"/><circle cx="1095.7" cy="2104.1" r="9.7"/><circle cx="1116.7" cy="2092.1" r="9.7"/>
<circle cx="1068.6" cy="2105.6" r="9.7"/><circle cx="724.5" cy="2123.1" r="9.7"/><circle cx="756.1" cy="2119.2" r="9.7"/><circle cx="777.1" cy="2113.2" r="9.7"/><circle cx="774.1" cy="2123.7" r="9.7"/><circle cx="802.6" cy="2117.7" r="9.7"/>
<circle cx="811.7" cy="2126.7" r="9.7"/><circle cx="820.7" cy="2108.7" r="9.7"/><circle cx="834.2" cy="2110.2" r="9.7"/><circle cx="865.2" cy="2118.6" r="9.7"/><circle cx="915.3" cy="2105.6" r="9.7"/><circle cx="969.4" cy="2118.6" r="9.7"/>
<circle cx="978.5" cy="2118.6" r="9.7"/><circle cx="1064.1" cy="2119.2" r="9.7"/><circle cx="1120" cy="2113.2" r="9.7"/><circle cx="748.5" cy="2132.7" r="9.7"/><circle cx="757.6" cy="2144.7" r="9.7"/><circle cx="793.6" cy="2135.7" r="9.7"/>
<circle cx="793.6" cy="2141.7" r="9.7"/><circle cx="838.1" cy="2135.7" r="9.7"/><circle cx="838.1" cy="2141.7" r="9.7"/><circle cx="865.8" cy="2144.7" r="9.7"/><circle cx="879.3" cy="2141.1" r="9.7"/><circle cx="910.2" cy="2141.1" r="9.7"/>
<circle cx="946.9" cy="2141.1" r="9.7"/><circle cx="1004.9" cy="2132.1" r="9.7"/><circle cx="1064.1" cy="2141.1" r="9.7"/><circle cx="1091.1" cy="2136.6" r="9.7"/><circle cx="1032.5" cy="2150.1" r="9.7"/><circle cx="969.4" cy="2159.1" r="9.7"/>
<circle cx="1115.2" cy="2154.6" r="9.7"/><circle cx="735" cy="2163.7" r="9.7"/><circle cx="742.5" cy="2163.7" r="9.7"/><circle cx="762.1" cy="2170.3" r="9.7"/><circle cx="775.6" cy="2167.3" r="9.7"/><circle cx="793.6" cy="2158.2" r="9.7"/>
<circle cx="798.1" cy="2172.7" r="9.7"/><circle cx="811.7" cy="2172.7" r="9.7"/><circle cx="842.6" cy="2168.2" r="9.7"/><circle cx="874.2" cy="2172.7" r="9.7"/><circle cx="892.2" cy="2159.1" r="9.7"/><circle cx="937.9" cy="2168.2" r="9.7"/>
<circle cx="924.4" cy="2177.2" r="9.7"/><circle cx="992" cy="2168.2" r="9.7"/><circle cx="996.5" cy="2168.2" r="9.7"/><circle cx="1014.5" cy="2163.7" r="9.7"/><circle cx="1019" cy="2181.7" r="9.7"/><circle cx="1077.6" cy="2172.7" r="9.7"/>
<circle cx="1104.7" cy="2172.7" r="9.7"/><circle cx="1115.2" cy="2170.3" r="9.7"/><circle cx="738" cy="2186.2" r="9.7"/><circle cx="757.6" cy="2182.3" r="9.7"/><circle cx="766.6" cy="2192.8" r="9.7"/><circle cx="798.1" cy="2195.2" r="9.7"/>
<circle cx="807.2" cy="2203.3" r="9.7"/><circle cx="987.5" cy="2186.2" r="9.7"/><circle cx="1095.7" cy="2195.2" r="9.7"/><circle cx="752.5" cy="2204.2" r="9.7"/><circle cx="775.6" cy="2204.2" r="9.7"/><circle cx="852.2" cy="2209.3" r="9.7"/>
<circle cx="1001" cy="2204.2" r="9.7"/><circle cx="924.4" cy="2213.8" r="9.7"/><circle cx="960.4" cy="2213.2" r="9.7"/><circle cx="928.9" cy="2227.4" r="9.7"/><circle cx="946.9" cy="2222.3" r="9.7"/><circle cx="888.3" cy="2222.3" r="9.7"/>
<circle cx="901.8" cy="2227.4" r="9.7"/><circle cx="738" cy="2222.3" r="9.7"/><circle cx="747" cy="2234.9" r="9.7"/><circle cx="757.6" cy="2235.8" r="9.7"/><circle cx="1109.2" cy="2218.3" r="9.7"/><circle cx="852.2" cy="2240.3" r="9.7"/>
<circle cx="910.8" cy="2240.3" r="9.7"/><circle cx="906.3" cy="2252.9" r="9.7"/><circle cx="946.9" cy="2235.8" r="9.7"/><circle cx="960.4" cy="2240.3" r="9.7"/><circle cx="964.9" cy="2252.9" r="9.7"/><circle cx="978.5" cy="2255.9" r="9.7"/>
<circle cx="996.5" cy="2235.8" r="9.7"/><circle cx="784.6" cy="2249.9" r="9.7"/><circle cx="793.6" cy="2249.9" r="9.7"/><circle cx="811.7" cy="2249.9" r="9.7"/><circle cx="738" cy="2252.9" r="9.7"/><circle cx="726" cy="2257.4" r="9.7"/>
<circle cx="1106.2" cy="2249.9" r="9.7"/><circle cx="1254.3" cy="2032" r="9.7"/><circle cx="1299.3" cy="2036.5" r="9.7"/><circle cx="1141.6" cy="2036.5" r="9.7"/><circle cx="1155.1" cy="2055.5" r="9.7"/><circle cx="1165.6" cy="2029" r="9.7"/>
<circle cx="1182.1" cy="2033.5" r="9.7"/><circle cx="1195.6" cy="2029" r="9.7"/><circle cx="1191.1" cy="2064.5" r="9.7"/><circle cx="1206.2" cy="2054.6" r="9.7"/><circle cx="1209.2" cy="2069.6" r="9.7"/><circle cx="1322.8" cy="2054.6" r="9.7"/>
<circle cx="1313.8" cy="2065.1" r="9.7"/><circle cx="1394" cy="2059.1" r="9.7"/><circle cx="1481.1" cy="2059.1" r="9.7"/><circle cx="1472.1" cy="2068.1" r="9.7"/><circle cx="1276.8" cy="2073.5" r="9.7"/><circle cx="1231.7" cy="2077.1" r="9.7"/>
<circle cx="1299.3" cy="2081.6" r="9.7"/><circle cx="1285.8" cy="2095.1" r="9.7"/><circle cx="1308.3" cy="2095.1" r="9.7"/><circle cx="1318.3" cy="2100.5" r="9.7"/><circle cx="1345" cy="2091.5" r="9.7"/><circle cx="1371.5" cy="2086.1" r="9.7"/>
<circle cx="1382" cy="2081.6" r="9.7"/><circle cx="1394" cy="2077.1" r="9.7"/><circle cx="1413.5" cy="2069.6" r="9.7"/><circle cx="1431.6" cy="2077.1" r="9.7"/><circle cx="1155.1" cy="2086.1" r="9.7"/><circle cx="1125" cy="2086.1" r="9.7"/>
<circle cx="1119" cy="2095.1" r="9.7"/><circle cx="1132.5" cy="2099.6" r="9.7"/><circle cx="1185.1" cy="2091.5" r="9.7"/><circle cx="1179.1" cy="2096.6" r="9.7"/><circle cx="1236.2" cy="2095.1" r="9.7"/><circle cx="1236.2" cy="2109.6" r="9.7"/>
<circle cx="1218.2" cy="2118.6" r="9.7"/><circle cx="1254.9" cy="2118.6" r="9.7"/><circle cx="1150.6" cy="2109.6" r="9.7"/><circle cx="1168.6" cy="2109.6" r="9.7"/><circle cx="1155.1" cy="2117.7" r="9.7"/><circle cx="1128" cy="2114.7" r="9.7"/>
<circle cx="1132.5" cy="2123.7" r="9.7"/><circle cx="1182.1" cy="2136.6" r="9.7"/><circle cx="1195.6" cy="2150.1" r="9.7"/><circle cx="1168.6" cy="2154.6" r="9.7"/><circle cx="1150.6" cy="2159.1" r="9.7"/><circle cx="1155.1" cy="2167.3" r="9.7"/>
<circle cx="1137" cy="2172.7" r="9.7"/><circle cx="1123.5" cy="2154.6" r="9.7"/><circle cx="1114.5" cy="2155.2" r="9.7"/><circle cx="1114.5" cy="2172.7" r="9.7"/><circle cx="1200.2" cy="2177.2" r="9.7"/><circle cx="1173.1" cy="2195.2" r="9.7"/>
<circle cx="1408.4" cy="2123.1" r="9.7"/><circle cx="1345" cy="2144.7" r="9.7"/><circle cx="1340.5" cy="2154.6" r="9.7"/><circle cx="1426.2" cy="2159.1" r="9.7"/><circle cx="1376" cy="2186.2" r="9.7"/><circle cx="1399.4" cy="2181.7" r="9.7"/>
<circle cx="1349.5" cy="2195.2" r="9.7"/><circle cx="1349.5" cy="2209.3" r="9.7"/><circle cx="1412.9" cy="2204.2" r="9.7"/><circle cx="1213.7" cy="2227.4" r="9.7"/><circle cx="1372.4" cy="2240.3" r="9.7"/><circle cx="1141.6" cy="2249.9" r="9.7"/>
<circle cx="1110" cy="2218.3" r="9.7"/><circle cx="1200.2" cy="2260.1" r="9.7"/><circle cx="1458.6" cy="2252.9" r="9.7"/><circle cx="784.4" cy="2277" r="9.7"/><circle cx="919.6" cy="2322.1" r="9.7"/><circle cx="1037.2" cy="2276.1" r="9.7"/>
<circle cx="1041.7" cy="2299.6" r="9.7"/><circle cx="951.6" cy="2299.6" r="9.7"/><circle cx="947" cy="2326.6" r="9.7"/><circle cx="1109.3" cy="2263.5" r="9.7"/><circle cx="1213" cy="2271.6" r="9.7"/><circle cx="1317.6" cy="2317.6" r="9.7"/>
<circle cx="1398.7" cy="2268" r="9.7"/><circle cx="1489.3" cy="2295.1" r="9.7"/><circle cx="726" cy="1826.1" r="9.7"/><circle cx="738" cy="1838.1" r="9.7"/><circle cx="753.1" cy="1847.1" r="9.7"/><circle cx="729" cy="1859.1" r="9.7"/>
<circle cx="747" cy="1868.1" r="9.7"/><circle cx="762.1" cy="1865.1" r="9.7"/><circle cx="729" cy="1877.2" r="9.7"/><circle cx="741" cy="1895.2" r="9.7"/><circle cx="759.1" cy="1889.2" r="9.7"/><circle cx="729" cy="1910.2" r="9.7"/>
<circle cx="759.1" cy="1913.2" r="9.7"/><circle cx="741" cy="1916.2" r="9.7"/><circle cx="750.1" cy="1880.2" r="9.7"/><circle cx="780.1" cy="1880.2" r="9.7"/><circle cx="825.2" cy="1880.2" r="9.7"/><circle cx="810.2" cy="1886.2" r="9.7"/>
<circle cx="846.2" cy="1904.2" r="9.7"/><circle cx="798.1" cy="1910.2" r="9.7"/><circle cx="780.1" cy="1895.2" r="9.7"/><circle cx="879.3" cy="1940.3" r="9.7"/><circle cx="897.3" cy="1946.3" r="9.7"/><circle cx="915.3" cy="1943.3" r="9.7"/>
<circle cx="924.4" cy="1949.3" r="9.7"/><circle cx="942.4" cy="1952.3" r="9.7"/><circle cx="957.4" cy="1955.3" r="9.7"/><circle cx="855.2" cy="1946.3" r="9.7"/><circle cx="861.2" cy="1964.3" r="9.7"/><circle cx="795.1" cy="1934.3" r="9.7"/>
<circle cx="810.2" cy="1943.3" r="9.7"/><circle cx="801.1" cy="1961.3" r="9.7"/><circle cx="810.2" cy="1970.3" r="9.7"/><circle cx="789.1" cy="1976.3" r="9.7"/><circle cx="795.1" cy="1985.3" r="9.7"/><circle cx="807.2" cy="1982.3" r="9.7"/>
<circle cx="783.1" cy="1958.3" r="9.7"/><circle cx="777.1" cy="1970.3" r="9.7"/><circle cx="819.2" cy="1958.3" r="9.7"/><circle cx="858.2" cy="1979.3" r="9.7"/><circle cx="846.2" cy="1982.3" r="9.7"/><circle cx="984.5" cy="1892.2" r="9.7"/>
<circle cx="996.5" cy="1892.2" r="9.7"/><circle cx="1020.5" cy="1898.2" r="9.7"/><circle cx="984.5" cy="1910.2" r="9.7"/><circle cx="990.5" cy="1925.2" r="9.7"/><circle cx="954.4" cy="1916.2" r="9.7"/><circle cx="1038.6" cy="1895.2" r="9.7"/>
<circle cx="1035.6" cy="1931.2" r="9.7"/><circle cx="1029.5" cy="1943.3" r="9.7"/><circle cx="1044.6" cy="1919.2" r="9.7"/><circle cx="1020.5" cy="1946.3" r="9.7"/><circle cx="981.5" cy="2000.4" r="9.7"/><circle cx="972.4" cy="2000.4" r="9.7"/>
<circle cx="984.5" cy="2018.4" r="9.7"/><circle cx="969.4" cy="2012.4" r="9.7"/><circle cx="1020.5" cy="2009.4" r="9.7"/><circle cx="1005.5" cy="2006.4" r="9.7"/><circle cx="1047.6" cy="1991.4" r="9.7"/><circle cx="1050.6" cy="2012.4" r="9.7"/>
<circle cx="1089.6" cy="2003.4" r="9.7"/><circle cx="1107.7" cy="2006.4" r="9.7"/><circle cx="1077.6" cy="2021.4" r="9.7"/><circle cx="1110.7" cy="1937.3" r="9.7"/><circle cx="1113.7" cy="1955.3" r="9.7"/><circle cx="750.1" cy="2021.4" r="9.7"/>
<circle cx="771.1" cy="2027.4" r="9.7"/><circle cx="738" cy="2018.4" r="9.7"/><circle cx="789.1" cy="2027.4" r="9.7"/><circle cx="807.2" cy="2027.4" r="9.7"/><circle cx="729" cy="2044" r="9.7"/><circle cx="744" cy="2038" r="9.7"/>
<circle cx="759.1" cy="2044" r="9.7"/><circle cx="780.1" cy="2041" r="9.7"/><circle cx="798.1" cy="2044" r="9.7"/><circle cx="729" cy="2071.1" r="9.7"/><circle cx="738" cy="2077.1" r="9.7"/><circle cx="756.1" cy="2077.1" r="9.7"/>
<circle cx="774.1" cy="2062.1" r="9.7"/><circle cx="789.1" cy="2062.1" r="9.7"/><circle cx="804.1" cy="2059.1" r="9.7"/><circle cx="771.1" cy="2083.1" r="9.7"/><circle cx="789.1" cy="2086.1" r="9.7"/><circle cx="783.1" cy="2104.1" r="9.7"/>
<circle cx="768.1" cy="2104.1" r="9.7"/><circle cx="942.4" cy="2050.1" r="9.7"/><circle cx="960.4" cy="2065.1" r="9.7"/><circle cx="960.4" cy="2080.1" r="9.7"/><circle cx="957.4" cy="2089.1" r="9.7"/><circle cx="975.4" cy="2074.1" r="9.7"/>
<circle cx="939.4" cy="2059.1" r="9.7"/><circle cx="1014.5" cy="2053.1" r="9.7"/><circle cx="1035.6" cy="2053.1" r="9.7"/><circle cx="1050.6" cy="2050.1" r="9.7"/><circle cx="999.5" cy="2068.1" r="9.7"/><circle cx="1020.5" cy="2071.1" r="9.7"/>
<circle cx="1065.6" cy="2059.1" r="9.7"/><circle cx="1068.6" cy="2092.1" r="9.7"/><circle cx="1065.6" cy="2128.2" r="9.7"/>
</g>
<line x1="343" y1="1966.5" x2="2035.4" y2="2116.6" stroke="#000" stroke-width="5.3" stroke-linecap="round"/>
<text class="t" x="277.5" y="1523.1" font-size="65.5" text-anchor="end">90</text>
<text class="t" x="277.5" y="1624.5" font-size="65.5" text-anchor="end">80</text>
<text class="t" x="277.5" y="1725.8" font-size="65.5" text-anchor="end">70</text>
<text class="t" x="277.5" y="1827.2" font-size="65.5" text-anchor="end">60</text>
<text class="t" x="277.5" y="1928.5" font-size="65.5" text-anchor="end">50</text>
<text class="t" x="277.5" y="2029.9" font-size="65.5" text-anchor="end">40</text>
<text class="t" x="277.5" y="2131.3" font-size="65.5" text-anchor="end">30</text>
<text class="t" x="277.5" y="2232.6" font-size="65.5" text-anchor="end">20</text>
<text class="t" x="277.5" y="2334" font-size="65.5" text-anchor="end">10</text>
<text class="t" x="277.5" y="2435.3" font-size="65.5" text-anchor="end">0</text>
<text class="t" x="344.7" y="2529" font-size="65.5" text-anchor="middle">0</text>
<text class="t" x="635.6" y="2529" font-size="65.5" text-anchor="middle">10</text>
<text class="t" x="926.6" y="2529" font-size="65.5" text-anchor="middle">20</text>
<text class="t" x="1217.5" y="2529" font-size="65.5" text-anchor="middle">30</text>
<text class="t" x="1508.5" y="2529" font-size="65.5" text-anchor="middle">40</text>
<text class="t" x="1799.5" y="2529" font-size="65.5" text-anchor="middle">50</text>
<text class="t" x="2090.4" y="2529" font-size="65.5" text-anchor="middle">60</text>
<text class="t" y="2636" font-size="62.5"><tspan x="1121.7" textLength="75.8" lengthAdjust="spacingAndGlyphs">PB</tspan> <tspan x="1218.4" textLength="93.7" lengthAdjust="spacingAndGlyphs">(%)</tspan></text>
<text class="t" transform="translate(164.6 2183.7) rotate(-90)" font-size="62.5"><tspan x="-0.9" textLength="146.4" lengthAdjust="spacingAndGlyphs">TPFD</tspan> <tspan x="169.6" textLength="278.6" lengthAdjust="spacingAndGlyphs">(mm/day)</tspan></text>
<text class="t" x="1898.9" y="2196" font-size="57" text-anchor="middle" textLength="547.4" lengthAdjust="spacingAndGlyphs">y = -0.2541x + 44.238</text>
<text class="t" y="2272" font-size="57"><tspan x="1752.9" textLength="31.9" lengthAdjust="spacingAndGlyphs">R</tspan><tspan x="1787.4" textLength="21.1" lengthAdjust="spacingAndGlyphs" dy="-7">²</tspan> <tspan x="1821.9" textLength="29.5" lengthAdjust="spacingAndGlyphs" dy="7">=</tspan> <tspan x="1869.9" textLength="175.4" lengthAdjust="spacingAndGlyphs">0.0651</tspan></text>
</g>
<text class="cap" x="1105.5" y="2817" font-size="88" text-anchor="middle" textLength="83.1" lengthAdjust="spacingAndGlyphs">(<tspan class="b">c</tspan>)</text>
<g id="chart-d" filter="url(#soft)">
<rect x="25" y="2841.3" width="2155.6" height="4.7" fill="#d9d9d9"/>
<rect x="25" y="4135.4" width="2155.6" height="7" fill="#d9d9d9"/>
<rect x="25" y="2841.3" width="4.4" height="1301.1" fill="#d9d9d9"/>
<rect x="2174.8" y="2841.3" width="5.8" height="1301.1" fill="#d9d9d9"/>
<rect x="210.5" y="2920.9" width="1883" height="4.8" fill="#d9d9d9"/>
<rect x="210.5" y="3030.3" width="1883" height="4.8" fill="#d9d9d9"/>
<rect x="210.5" y="3136.3" width="1883" height="4.8" fill="#d9d9d9"/>
<rect x="210.5" y="3245.3" width="1883" height="4.8" fill="#d9d9d9"/>
<rect x="210.5" y="3354.3" width="1883" height="4.8" fill="#d9d9d9"/>
<rect x="210.5" y="3460.2" width="1883" height="4.8" fill="#d9d9d9"/>
<rect x="210.5" y="3569.2" width="1883" height="4.8" fill="#d9d9d9"/>
<rect x="210.5" y="3678.2" width="1883" height="4.8" fill="#d9d9d9"/>
<rect x="210.6" y="2921" width="4.8" height="868.5" fill="#d9d9d9"/>
<rect x="586.2" y="2921" width="4.8" height="868.5" fill="#d9d9d9"/>
<rect x="962" y="2921" width="4.8" height="868.5" fill="#d9d9d9"/>
<rect x="1337.6" y="2921" width="4.8" height="868.5" fill="#d9d9d9"/>
<rect x="2088.6" y="2921" width="4.8" height="868.5" fill="#d9d9d9"/>
<rect x="1713" y="2921" width="5.2" height="868.5" fill="#bfbfbf"/>
<rect x="210.5" y="3784.4" width="1883" height="5.2" fill="#bfbfbf"/>
<g fill="#1e9ad8">
<circle cx="1863.7" cy="3436.7" r="13.8"/><circle cx="1876.3" cy="3439.7" r="13.8"/><circle cx="1897.4" cy="3436.7" r="13.8"/><circle cx="1795.4" cy="3453.2" r="13.8"/><circle cx="1836.3" cy="3447.6" r="13.8"/><circle cx="1862.3" cy="3450.4" r="13.8"/>
<circle cx="1870" cy="3449.7" r="13.8"/><circle cx="1892.6" cy="3444.6" r="13.8"/><circle cx="1905" cy="3445.8" r="13.8"/><circle cx="1916.4" cy="3445" r="13.8"/><circle cx="1931.4" cy="3445.8" r="13.8"/><circle cx="1982.6" cy="3441.6" r="13.8"/>
<circle cx="1755" cy="3460.3" r="13.8"/><circle cx="1776.7" cy="3466.9" r="13.8"/><circle cx="1782.2" cy="3461.4" r="13.8"/><circle cx="1798.7" cy="3464.7" r="13.8"/><circle cx="1816.5" cy="3465.7" r="13.8"/><circle cx="1834.7" cy="3456.5" r="13.8"/>
<circle cx="1843.7" cy="3458" r="13.8"/><circle cx="1869.6" cy="3456.8" r="13.8"/><circle cx="1880.4" cy="3459.5" r="13.8"/><circle cx="1894.3" cy="3464.6" r="13.8"/><circle cx="1908.2" cy="3463.6" r="13.8"/><circle cx="1929.2" cy="3466.3" r="13.8"/>
<circle cx="1942.9" cy="3466.1" r="13.8"/><circle cx="1957.5" cy="3461.9" r="13.8"/><circle cx="1975.1" cy="3465.1" r="13.8"/><circle cx="1754.9" cy="3478.2" r="13.8"/><circle cx="1763.5" cy="3476" r="13.8"/><circle cx="1783.9" cy="3477.1" r="13.8"/>
<circle cx="1792.9" cy="3477.7" r="13.8"/><circle cx="1806.2" cy="3472.2" r="13.8"/><circle cx="1832.4" cy="3474.2" r="13.8"/><circle cx="1839.1" cy="3477.9" r="13.8"/><circle cx="1856.8" cy="3468.6" r="13.8"/><circle cx="1867.3" cy="3471.6" r="13.8"/>
<circle cx="1886.4" cy="3479.8" r="13.8"/><circle cx="1900.9" cy="3478.7" r="13.8"/><circle cx="1923.7" cy="3473.5" r="13.8"/><circle cx="1940.8" cy="3477.7" r="13.8"/><circle cx="1950.2" cy="3471.6" r="13.8"/><circle cx="1965.5" cy="3479.3" r="13.8"/>
<circle cx="1981.9" cy="3470.8" r="13.8"/><circle cx="1737.7" cy="3490.9" r="13.8"/><circle cx="1758.5" cy="3487.1" r="13.8"/><circle cx="1777.7" cy="3482.3" r="13.8"/><circle cx="1792" cy="3483.7" r="13.8"/><circle cx="1807.2" cy="3483.8" r="13.8"/>
<circle cx="1813.3" cy="3488" r="13.8"/><circle cx="1839.3" cy="3485.1" r="13.8"/><circle cx="1849.5" cy="3489.3" r="13.8"/><circle cx="1862.1" cy="3488.4" r="13.8"/><circle cx="1874.8" cy="3487.4" r="13.8"/><circle cx="1899.3" cy="3486.1" r="13.8"/>
<circle cx="1908.3" cy="3482.6" r="13.8"/><circle cx="1929.6" cy="3487.1" r="13.8"/><circle cx="1947.6" cy="3490.9" r="13.8"/><circle cx="1953.4" cy="3493" r="13.8"/><circle cx="1978.9" cy="3491.8" r="13.8"/><circle cx="1737.9" cy="3500.1" r="13.8"/>
<circle cx="1752.7" cy="3501.5" r="13.8"/><circle cx="1765.3" cy="3500.4" r="13.8"/><circle cx="1785.1" cy="3500.8" r="13.8"/><circle cx="1800.8" cy="3499.5" r="13.8"/><circle cx="1813" cy="3506.4" r="13.8"/><circle cx="1828.6" cy="3500" r="13.8"/>
<circle cx="1836.9" cy="3501.2" r="13.8"/><circle cx="1856.4" cy="3505.2" r="13.8"/><circle cx="1876.3" cy="3507.3" r="13.8"/><circle cx="1887.8" cy="3500.4" r="13.8"/><circle cx="1904.7" cy="3504.5" r="13.8"/><circle cx="1914.4" cy="3498.1" r="13.8"/>
<circle cx="1930.7" cy="3499.4" r="13.8"/><circle cx="1948" cy="3507.1" r="13.8"/><circle cx="1962.4" cy="3506.7" r="13.8"/><circle cx="1979" cy="3497.9" r="13.8"/><circle cx="1743.1" cy="3517.5" r="13.8"/><circle cx="1759.1" cy="3518.5" r="13.8"/>
<circle cx="1776.4" cy="3510.8" r="13.8"/><circle cx="1782.3" cy="3516.4" r="13.8"/><circle cx="1803.4" cy="3515.2" r="13.8"/><circle cx="1822.1" cy="3511.1" r="13.8"/><circle cx="1836.6" cy="3514.1" r="13.8"/><circle cx="1848.7" cy="3511.9" r="13.8"/>
<circle cx="1862.5" cy="3515.9" r="13.8"/><circle cx="1881.3" cy="3519.8" r="13.8"/><circle cx="1893.5" cy="3517.6" r="13.8"/><circle cx="1906.8" cy="3516.8" r="13.8"/><circle cx="1923.1" cy="3519.3" r="13.8"/><circle cx="1948.3" cy="3512" r="13.8"/>
<circle cx="1961.9" cy="3511.6" r="13.8"/><circle cx="1971.3" cy="3510.2" r="13.8"/><circle cx="1988.5" cy="3510.2" r="13.8"/><circle cx="1737.2" cy="3527.8" r="13.8"/><circle cx="1748" cy="3524.1" r="13.8"/><circle cx="1758.4" cy="3528.7" r="13.8"/>
<circle cx="1776.8" cy="3524.3" r="13.8"/><circle cx="1800.3" cy="3522.7" r="13.8"/><circle cx="1809.3" cy="3531.5" r="13.8"/><circle cx="1829.4" cy="3523.7" r="13.8"/><circle cx="1844.8" cy="3529.2" r="13.8"/><circle cx="1859" cy="3533.8" r="13.8"/>
<circle cx="1876.5" cy="3529.6" r="13.8"/><circle cx="1891.7" cy="3528.4" r="13.8"/><circle cx="1904.5" cy="3532.3" r="13.8"/><circle cx="1920.9" cy="3527" r="13.8"/><circle cx="1929.2" cy="3531.9" r="13.8"/><circle cx="1948.5" cy="3527.6" r="13.8"/>
<circle cx="1963.4" cy="3529.1" r="13.8"/><circle cx="1980.2" cy="3532.5" r="13.8"/><circle cx="1998.1" cy="3529.2" r="13.8"/><circle cx="1741.2" cy="3546.7" r="13.8"/><circle cx="1751.2" cy="3540.1" r="13.8"/><circle cx="1775.1" cy="3541.4" r="13.8"/>
<circle cx="1791.9" cy="3537.9" r="13.8"/><circle cx="1806.4" cy="3541.1" r="13.8"/><circle cx="1819.5" cy="3536.6" r="13.8"/><circle cx="1833" cy="3545.6" r="13.8"/><circle cx="1852.5" cy="3542.7" r="13.8"/><circle cx="1864.2" cy="3536.4" r="13.8"/>
<circle cx="1883.1" cy="3541.3" r="13.8"/><circle cx="1898.9" cy="3543.3" r="13.8"/><circle cx="1910.5" cy="3546.4" r="13.8"/><circle cx="1922.8" cy="3547.4" r="13.8"/><circle cx="1937.7" cy="3547.6" r="13.8"/><circle cx="1959.2" cy="3541.3" r="13.8"/>
<circle cx="1978.9" cy="3542.1" r="13.8"/><circle cx="1989.3" cy="3536.7" r="13.8"/><circle cx="1733.4" cy="3561" r="13.8"/><circle cx="1744.7" cy="3558.9" r="13.8"/><circle cx="1767.1" cy="3549.6" r="13.8"/><circle cx="1780.7" cy="3553" r="13.8"/>
<circle cx="1797.8" cy="3561" r="13.8"/><circle cx="1812.9" cy="3555.3" r="13.8"/><circle cx="1827.7" cy="3552.4" r="13.8"/><circle cx="1841.5" cy="3550.8" r="13.8"/><circle cx="1860.1" cy="3550.2" r="13.8"/><circle cx="1873.2" cy="3551.6" r="13.8"/>
<circle cx="1889.2" cy="3550.1" r="13.8"/><circle cx="1898.3" cy="3556.9" r="13.8"/><circle cx="1922.1" cy="3560.1" r="13.8"/><circle cx="1937" cy="3561.4" r="13.8"/><circle cx="1946.1" cy="3557" r="13.8"/><circle cx="1967.6" cy="3551.5" r="13.8"/>
<circle cx="1977.1" cy="3552.3" r="13.8"/><circle cx="1997.2" cy="3558.9" r="13.8"/><circle cx="1728.7" cy="3564.2" r="13.8"/><circle cx="1740.5" cy="3565.7" r="13.8"/><circle cx="1758.7" cy="3572.7" r="13.8"/><circle cx="1769.3" cy="3571.5" r="13.8"/>
<circle cx="1787.2" cy="3565.5" r="13.8"/><circle cx="1800.5" cy="3569.4" r="13.8"/><circle cx="1822.4" cy="3570.1" r="13.8"/><circle cx="1828.2" cy="3572.3" r="13.8"/><circle cx="1850.6" cy="3568" r="13.8"/><circle cx="1862.1" cy="3568.2" r="13.8"/>
<circle cx="1883" cy="3566.2" r="13.8"/><circle cx="1891.8" cy="3573.5" r="13.8"/><circle cx="1911" cy="3563.8" r="13.8"/><circle cx="1931.9" cy="3564.2" r="13.8"/><circle cx="1941" cy="3570.3" r="13.8"/><circle cx="1960.1" cy="3573.7" r="13.8"/>
<circle cx="1969.8" cy="3569.7" r="13.8"/><circle cx="1993.7" cy="3568.5" r="13.8"/><circle cx="1705.6" cy="3586.7" r="13.8"/><circle cx="1722.4" cy="3583.5" r="13.8"/><circle cx="1738.8" cy="3578.3" r="13.8"/><circle cx="1749.8" cy="3577.3" r="13.8"/>
<circle cx="1765.4" cy="3584.6" r="13.8"/><circle cx="1777.3" cy="3586.1" r="13.8"/><circle cx="1794.4" cy="3578.8" r="13.8"/><circle cx="1807.2" cy="3583.3" r="13.8"/><circle cx="1825" cy="3577" r="13.8"/><circle cx="1839.6" cy="3588.1" r="13.8"/>
<circle cx="1857.1" cy="3584.6" r="13.8"/><circle cx="1872" cy="3577.2" r="13.8"/><circle cx="1889.8" cy="3578.9" r="13.8"/><circle cx="1899.4" cy="3583.8" r="13.8"/><circle cx="1921.5" cy="3576.5" r="13.8"/><circle cx="1940.3" cy="3576.6" r="13.8"/>
<circle cx="1946.4" cy="3580.3" r="13.8"/><circle cx="1969.5" cy="3585.3" r="13.8"/><circle cx="1984.3" cy="3581.5" r="13.8"/><circle cx="2001.9" cy="3578" r="13.8"/><circle cx="1659.5" cy="3598.9" r="13.8"/><circle cx="1682.4" cy="3598" r="13.8"/>
<circle cx="1691.7" cy="3600.3" r="13.8"/><circle cx="1710.4" cy="3592.4" r="13.8"/><circle cx="1720.8" cy="3601.7" r="13.8"/><circle cx="1735.8" cy="3592.5" r="13.8"/><circle cx="1754.9" cy="3600.6" r="13.8"/><circle cx="1776.1" cy="3600" r="13.8"/>
<circle cx="1789.2" cy="3590" r="13.8"/><circle cx="1806" cy="3592.2" r="13.8"/><circle cx="1824" cy="3601.5" r="13.8"/><circle cx="1829" cy="3598.7" r="13.8"/><circle cx="1846.6" cy="3591.1" r="13.8"/><circle cx="1869.7" cy="3595.2" r="13.8"/>
<circle cx="1878.2" cy="3596.6" r="13.8"/><circle cx="1890.9" cy="3595" r="13.8"/><circle cx="1913.5" cy="3600.2" r="13.8"/><circle cx="1922.6" cy="3600.6" r="13.8"/><circle cx="1937.9" cy="3592.4" r="13.8"/><circle cx="1956.2" cy="3591.9" r="13.8"/>
<circle cx="1968.8" cy="3597.7" r="13.8"/><circle cx="1988" cy="3592.2" r="13.8"/><circle cx="1658.1" cy="3614.9" r="13.8"/><circle cx="1671" cy="3608.4" r="13.8"/><circle cx="1685.7" cy="3607.8" r="13.8"/><circle cx="1701.4" cy="3605.5" r="13.8"/>
<circle cx="1715.5" cy="3611.6" r="13.8"/><circle cx="1733.2" cy="3604.2" r="13.8"/><circle cx="1744.7" cy="3613.5" r="13.8"/><circle cx="1762.7" cy="3613.3" r="13.8"/><circle cx="1781.3" cy="3610.9" r="13.8"/><circle cx="1793.7" cy="3610.3" r="13.8"/>
<circle cx="1809.9" cy="3609.6" r="13.8"/><circle cx="1831.8" cy="3604.7" r="13.8"/><circle cx="1838.5" cy="3614.2" r="13.8"/><circle cx="1862.5" cy="3613.1" r="13.8"/><circle cx="1877.2" cy="3604.6" r="13.8"/><circle cx="1891" cy="3604.9" r="13.8"/>
<circle cx="1908.1" cy="3608.1" r="13.8"/><circle cx="1919.3" cy="3609.6" r="13.8"/><circle cx="1931.4" cy="3610.2" r="13.8"/><circle cx="1954.8" cy="3608.7" r="13.8"/><circle cx="1965.2" cy="3607.8" r="13.8"/><circle cx="1977.7" cy="3606.8" r="13.8"/>
<circle cx="1646.7" cy="3620.3" r="13.8"/><circle cx="1661.7" cy="3627.2" r="13.8"/><circle cx="1676.3" cy="3619" r="13.8"/><circle cx="1692.5" cy="3617.9" r="13.8"/><circle cx="1705.9" cy="3619.6" r="13.8"/><circle cx="1727.5" cy="3628" r="13.8"/>
<circle cx="1738.3" cy="3620.4" r="13.8"/><circle cx="1757.7" cy="3617.2" r="13.8"/><circle cx="1767.2" cy="3623.7" r="13.8"/><circle cx="1787.2" cy="3621.1" r="13.8"/><circle cx="1802.2" cy="3617.1" r="13.8"/><circle cx="1815.8" cy="3619" r="13.8"/>
<circle cx="1831" cy="3617.7" r="13.8"/><circle cx="1853.5" cy="3617" r="13.8"/><circle cx="1864.1" cy="3618.9" r="13.8"/><circle cx="1877.1" cy="3626" r="13.8"/><circle cx="1901.7" cy="3628.4" r="13.8"/><circle cx="1909.6" cy="3623.3" r="13.8"/>
<circle cx="1926.4" cy="3617.8" r="13.8"/><circle cx="1941.7" cy="3624.2" r="13.8"/><circle cx="1957" cy="3626.3" r="13.8"/><circle cx="1973" cy="3620.4" r="13.8"/><circle cx="1993.9" cy="3623.7" r="13.8"/><circle cx="1655.7" cy="3637.6" r="13.8"/>
<circle cx="1671" cy="3640.6" r="13.8"/><circle cx="1689.7" cy="3635.6" r="13.8"/><circle cx="1700.8" cy="3639.6" r="13.8"/><circle cx="1722" cy="3637.6" r="13.8"/><circle cx="1737.9" cy="3636.7" r="13.8"/><circle cx="1747.9" cy="3634.1" r="13.8"/>
<circle cx="1761.7" cy="3632.2" r="13.8"/><circle cx="1785" cy="3637" r="13.8"/><circle cx="1790.4" cy="3632.8" r="13.8"/><circle cx="1810" cy="3640" r="13.8"/><circle cx="1830.7" cy="3639.4" r="13.8"/><circle cx="1839.4" cy="3635.5" r="13.8"/>
<circle cx="1862.8" cy="3635" r="13.8"/><circle cx="1874.7" cy="3630.9" r="13.8"/><circle cx="1888.2" cy="3636.4" r="13.8"/><circle cx="1908.8" cy="3641.9" r="13.8"/><circle cx="1922.4" cy="3634.3" r="13.8"/><circle cx="1939.4" cy="3641.3" r="13.8"/>
<circle cx="1945.3" cy="3635.4" r="13.8"/><circle cx="1966.5" cy="3634" r="13.8"/><circle cx="1978.3" cy="3639.7" r="13.8"/><circle cx="1993.4" cy="3637" r="13.8"/><circle cx="1669.2" cy="3643.9" r="13.8"/><circle cx="1674.5" cy="3654.6" r="13.8"/>
<circle cx="1699.6" cy="3649.9" r="13.8"/><circle cx="1707.7" cy="3647.4" r="13.8"/><circle cx="1728.5" cy="3650.8" r="13.8"/><circle cx="1740.5" cy="3652.1" r="13.8"/><circle cx="1751.9" cy="3648.5" r="13.8"/><circle cx="1776.7" cy="3654.8" r="13.8"/>
<circle cx="1787.5" cy="3653.2" r="13.8"/><circle cx="1807.8" cy="3650.1" r="13.8"/><circle cx="1814.4" cy="3645.1" r="13.8"/><circle cx="1836.2" cy="3647.9" r="13.8"/><circle cx="1850" cy="3644.3" r="13.8"/><circle cx="1870.5" cy="3647.1" r="13.8"/>
<circle cx="1882.3" cy="3651.3" r="13.8"/><circle cx="1894.4" cy="3646.3" r="13.8"/><circle cx="1912.4" cy="3647.7" r="13.8"/><circle cx="1922.1" cy="3645.9" r="13.8"/><circle cx="1937.1" cy="3654.6" r="13.8"/><circle cx="1954.6" cy="3654.8" r="13.8"/>
<circle cx="1975.1" cy="3655.3" r="13.8"/><circle cx="1988.8" cy="3646.9" r="13.8"/><circle cx="1658.3" cy="3665.5" r="13.8"/><circle cx="1676.3" cy="3658.5" r="13.8"/><circle cx="1688.7" cy="3665.7" r="13.8"/><circle cx="1707.7" cy="3660.3" r="13.8"/>
<circle cx="1723.1" cy="3657.6" r="13.8"/><circle cx="1734.5" cy="3661.2" r="13.8"/><circle cx="1749.1" cy="3659.4" r="13.8"/><circle cx="1763" cy="3661.5" r="13.8"/><circle cx="1779.5" cy="3662.2" r="13.8"/><circle cx="1792" cy="3659.3" r="13.8"/>
<circle cx="1810.5" cy="3669.2" r="13.8"/><circle cx="1830.6" cy="3659.1" r="13.8"/><circle cx="1843.5" cy="3659.1" r="13.8"/><circle cx="1855.3" cy="3669.2" r="13.8"/><circle cx="1871" cy="3658.5" r="13.8"/><circle cx="1889.2" cy="3664.3" r="13.8"/>
<circle cx="1904" cy="3668.7" r="13.8"/><circle cx="1919.6" cy="3661.7" r="13.8"/><circle cx="1931.4" cy="3664.3" r="13.8"/><circle cx="1953.4" cy="3663.3" r="13.8"/><circle cx="1964.6" cy="3660.3" r="13.8"/><circle cx="1684.2" cy="3679.1" r="13.8"/>
<circle cx="1696.7" cy="3681.1" r="13.8"/><circle cx="1709.1" cy="3675.9" r="13.8"/><circle cx="1722.8" cy="3680.8" r="13.8"/><circle cx="1743.5" cy="3677.1" r="13.8"/><circle cx="1760" cy="3681.7" r="13.8"/><circle cx="1766.7" cy="3673.4" r="13.8"/>
<circle cx="1787.3" cy="3679.4" r="13.8"/><circle cx="1800.1" cy="3676.1" r="13.8"/><circle cx="1820.6" cy="3674.3" r="13.8"/><circle cx="1836.2" cy="3671.5" r="13.8"/><circle cx="1848.6" cy="3678.5" r="13.8"/><circle cx="1869.5" cy="3676.9" r="13.8"/>
<circle cx="1882.6" cy="3678.8" r="13.8"/><circle cx="1897.9" cy="3676.2" r="13.8"/><circle cx="1909.5" cy="3672.3" r="13.8"/><circle cx="1931.8" cy="3680.1" r="13.8"/><circle cx="1944.5" cy="3679.8" r="13.8"/><circle cx="1955.9" cy="3672.9" r="13.8"/>
<circle cx="1974.1" cy="3676.4" r="13.8"/><circle cx="1691.6" cy="3695.3" r="13.8"/><circle cx="1697" cy="3696" r="13.8"/><circle cx="1713.1" cy="3690.9" r="13.8"/><circle cx="1733.4" cy="3696" r="13.8"/><circle cx="1745.7" cy="3684.8" r="13.8"/>
<circle cx="1769.9" cy="3689.8" r="13.8"/><circle cx="1779.4" cy="3689.4" r="13.8"/><circle cx="1792.7" cy="3684.6" r="13.8"/><circle cx="1811.6" cy="3686.9" r="13.8"/><circle cx="1826.4" cy="3696.2" r="13.8"/><circle cx="1847.7" cy="3688" r="13.8"/>
<circle cx="1855.4" cy="3685.7" r="13.8"/><circle cx="1874.2" cy="3686.4" r="13.8"/><circle cx="1883.9" cy="3695.3" r="13.8"/><circle cx="1904.6" cy="3694.9" r="13.8"/><circle cx="1916" cy="3686.4" r="13.8"/><circle cx="1935.9" cy="3692.6" r="13.8"/>
<circle cx="1946.6" cy="3690.3" r="13.8"/><circle cx="1966.7" cy="3690.3" r="13.8"/><circle cx="1710.5" cy="3708.7" r="13.8"/><circle cx="1730.3" cy="3697.9" r="13.8"/><circle cx="1735.8" cy="3700.7" r="13.8"/><circle cx="1751.2" cy="3708.1" r="13.8"/>
<circle cx="1767.9" cy="3705.9" r="13.8"/><circle cx="1793" cy="3706.2" r="13.8"/><circle cx="1809.1" cy="3705.5" r="13.8"/><circle cx="1817.3" cy="3709.4" r="13.8"/><circle cx="1830.8" cy="3704.4" r="13.8"/><circle cx="1848.6" cy="3704.3" r="13.8"/>
<circle cx="1862.7" cy="3709.3" r="13.8"/><circle cx="1886.6" cy="3706.1" r="13.8"/><circle cx="1896.1" cy="3709.2" r="13.8"/><circle cx="1917" cy="3698.3" r="13.8"/><circle cx="1931.8" cy="3699.1" r="13.8"/><circle cx="1937.8" cy="3700.8" r="13.8"/>
<circle cx="1956.6" cy="3703.6" r="13.8"/><circle cx="1704.1" cy="3715.6" r="13.8"/><circle cx="1712.6" cy="3716.8" r="13.8"/><circle cx="1734.4" cy="3714.5" r="13.8"/><circle cx="1749.8" cy="3711.4" r="13.8"/><circle cx="1761.5" cy="3717" r="13.8"/>
<circle cx="1779.7" cy="3719.7" r="13.8"/><circle cx="1792.2" cy="3714.6" r="13.8"/><circle cx="1813.7" cy="3714.6" r="13.8"/><circle cx="1822.2" cy="3718.7" r="13.8"/><circle cx="1840.1" cy="3718.3" r="13.8"/><circle cx="1863.1" cy="3722.9" r="13.8"/>
<circle cx="1876.4" cy="3722.9" r="13.8"/><circle cx="1891.9" cy="3715.6" r="13.8"/><circle cx="1909.1" cy="3712.8" r="13.8"/><circle cx="1915.9" cy="3717.3" r="13.8"/><circle cx="1930.4" cy="3718.5" r="13.8"/><circle cx="1951" cy="3713.7" r="13.8"/>
<circle cx="1709.9" cy="3731.2" r="13.8"/><circle cx="1725.3" cy="3735.3" r="13.8"/><circle cx="1737.8" cy="3726.5" r="13.8"/><circle cx="1753.6" cy="3734.7" r="13.8"/><circle cx="1775.9" cy="3726.1" r="13.8"/><circle cx="1781.7" cy="3736.6" r="13.8"/>
<circle cx="1808.8" cy="3728" r="13.8"/><circle cx="1819.1" cy="3725.3" r="13.8"/><circle cx="1834.3" cy="3726.8" r="13.8"/><circle cx="1851.9" cy="3726.6" r="13.8"/><circle cx="1865.9" cy="3728.7" r="13.8"/><circle cx="1880.5" cy="3736.1" r="13.8"/>
<circle cx="1896.5" cy="3736.4" r="13.8"/><circle cx="1914.3" cy="3727.4" r="13.8"/><circle cx="1924.2" cy="3734.5" r="13.8"/><circle cx="1946" cy="3726.5" r="13.8"/><circle cx="1690.8" cy="3743.9" r="13.8"/><circle cx="1700.9" cy="3747.8" r="13.8"/>
<circle cx="1719.4" cy="3748.8" r="13.8"/><circle cx="1739.4" cy="3743.8" r="13.8"/><circle cx="1747.1" cy="3739.8" r="13.8"/><circle cx="1765.4" cy="3742" r="13.8"/><circle cx="1777.7" cy="3744.3" r="13.8"/><circle cx="1798.2" cy="3746.4" r="13.8"/>
<circle cx="1810.4" cy="3746" r="13.8"/><circle cx="1828" cy="3749.2" r="13.8"/><circle cx="1844.1" cy="3748.4" r="13.8"/><circle cx="1854.3" cy="3748.4" r="13.8"/><circle cx="1867" cy="3748" r="13.8"/><circle cx="1882.6" cy="3745.5" r="13.8"/>
<circle cx="1901.2" cy="3740.2" r="13.8"/><circle cx="1922.3" cy="3739.9" r="13.8"/><circle cx="1937.1" cy="3739.2" r="13.8"/><circle cx="1665.5" cy="3762.3" r="13.8"/><circle cx="1677.4" cy="3759.4" r="13.8"/><circle cx="1697" cy="3753.6" r="13.8"/>
<circle cx="1708.6" cy="3757" r="13.8"/><circle cx="1726.9" cy="3758" r="13.8"/><circle cx="1736.8" cy="3754.1" r="13.8"/><circle cx="1754.6" cy="3752.7" r="13.8"/><circle cx="1775.4" cy="3762.4" r="13.8"/><circle cx="1790.5" cy="3754.3" r="13.8"/>
<circle cx="1804.2" cy="3752.1" r="13.8"/><circle cx="1815.2" cy="3754.7" r="13.8"/><circle cx="1835.3" cy="3758.7" r="13.8"/><circle cx="1850.2" cy="3753.6" r="13.8"/><circle cx="1865.2" cy="3760.7" r="13.8"/><circle cx="1885.1" cy="3756.1" r="13.8"/>
<circle cx="1895.6" cy="3762.1" r="13.8"/><circle cx="1906.2" cy="3758.9" r="13.8"/><circle cx="1922.4" cy="3761.4" r="13.8"/><circle cx="1653.9" cy="3770.3" r="13.8"/><circle cx="1675" cy="3776.4" r="13.8"/><circle cx="1684.4" cy="3769.2" r="13.8"/>
<circle cx="1705.7" cy="3770.6" r="13.8"/><circle cx="1722.6" cy="3769.7" r="13.8"/><circle cx="1728.1" cy="3768.6" r="13.8"/><circle cx="1753.7" cy="3772.1" r="13.8"/><circle cx="1770.1" cy="3775" r="13.8"/><circle cx="1782.1" cy="3767.3" r="13.8"/>
<circle cx="1794.4" cy="3765.4" r="13.8"/><circle cx="1808.9" cy="3767.8" r="13.8"/><circle cx="1831.7" cy="3767.1" r="13.8"/><circle cx="1840.1" cy="3765.5" r="13.8"/><circle cx="1853.3" cy="3773.5" r="13.8"/><circle cx="1871.8" cy="3771.2" r="13.8"/>
<circle cx="1892.3" cy="3773.5" r="13.8"/><circle cx="1900.5" cy="3774.1" r="13.8"/><circle cx="1921.6" cy="3772.2" r="13.8"/><circle cx="1934.9" cy="3776.2" r="13.8"/><circle cx="1658.6" cy="3779.3" r="13.8"/><circle cx="1678" cy="3784.9" r="13.8"/>
<circle cx="1696.4" cy="3786.6" r="13.8"/><circle cx="1710.4" cy="3783.1" r="13.8"/><circle cx="1728.5" cy="3785.4" r="13.8"/><circle cx="1737.7" cy="3785.6" r="13.8"/><circle cx="1756.2" cy="3788.2" r="13.8"/><circle cx="1790.8" cy="3784.8" r="13.8"/>
<circle cx="1805.2" cy="3782.2" r="13.8"/><circle cx="1829.6" cy="3783.8" r="13.8"/><circle cx="1848.8" cy="3787.2" r="13.8"/><circle cx="1914.7" cy="3785.3" r="13.8"/><circle cx="1924.4" cy="3783" r="13.8"/><circle cx="522.8" cy="3365.5" r="13.8"/>
<circle cx="662.5" cy="3445.7" r="13.8"/><circle cx="1029.5" cy="3347.4" r="13.8"/><circle cx="1072.7" cy="3322.2" r="13.8"/><circle cx="1075.4" cy="3454.7" r="13.8"/><circle cx="1185.4" cy="3525.1" r="13.8"/><circle cx="1129.5" cy="3616.1" r="13.8"/>
<circle cx="1134.9" cy="3620.6" r="13.8"/><circle cx="1153.9" cy="3632.3" r="13.8"/><circle cx="1192.6" cy="3643.2" r="13.8"/><circle cx="1295.4" cy="3619.7" r="13.8"/><circle cx="1314.4" cy="3599" r="13.8"/><circle cx="1322.5" cy="3623.3" r="13.8"/>
<circle cx="1340.5" cy="3617.9" r="13.8"/><circle cx="1368.4" cy="3769.4" r="13.8"/><circle cx="1388.3" cy="3457.4" r="13.8"/><circle cx="1394.6" cy="3553" r="13.8"/><circle cx="1388.3" cy="3583.7" r="13.8"/><circle cx="1620.9" cy="3046.6" r="13.8"/>
<circle cx="1560.8" cy="3176.4" r="13.8"/><circle cx="1747.1" cy="3230.5" r="13.8"/><circle cx="1727" cy="3241.7" r="13.8"/><circle cx="1678" cy="3255.2" r="13.8"/><circle cx="1672" cy="3279.8" r="13.8"/><circle cx="1616.4" cy="3268.7" r="13.8"/>
<circle cx="1632.9" cy="3271.7" r="13.8"/><circle cx="1758.5" cy="3273.8" r="13.8"/><circle cx="1483.5" cy="3333.3" r="13.8"/><circle cx="1571.3" cy="3327.3" r="13.8"/><circle cx="1672" cy="3333.3" r="13.8"/><circle cx="1679.5" cy="3327.3" r="13.8"/>
<circle cx="1781.1" cy="3319.2" r="13.8"/><circle cx="1790.7" cy="3336.3" r="13.8"/><circle cx="1721.6" cy="3336.3" r="13.8"/><circle cx="1700.5" cy="3351.4" r="13.8"/><circle cx="1748.6" cy="3342.3" r="13.8"/><circle cx="1739.6" cy="3357.4" r="13.8"/>
<circle cx="1715.6" cy="3366.4" r="13.8"/><circle cx="1684" cy="3366.4" r="13.8"/><circle cx="1663" cy="3376.9" r="13.8"/><circle cx="1640.4" cy="3390.1" r="13.8"/><circle cx="1605.9" cy="3379.9" r="13.8"/><circle cx="1742.6" cy="3378.4" r="13.8"/>
<circle cx="1422.5" cy="3390.1" r="13.8"/><circle cx="1796.7" cy="3381.4" r="13.8"/><circle cx="1778.7" cy="3390.1" r="13.8"/><circle cx="1845" cy="3170.4" r="13.8"/><circle cx="1830.6" cy="3184.6" r="13.8"/><circle cx="1895.2" cy="3218.5" r="13.8"/>
<circle cx="1887.7" cy="3225.1" r="13.8"/><circle cx="1848" cy="3236.6" r="13.8"/><circle cx="1942.4" cy="3230.5" r="13.8"/><circle cx="1910.8" cy="3259.1" r="13.8"/><circle cx="1856.1" cy="3285.2" r="13.8"/><circle cx="1818.5" cy="3302.4" r="13.8"/>
<circle cx="1936.4" cy="3290.6" r="13.8"/><circle cx="1965.8" cy="3293.7" r="13.8"/><circle cx="1881.7" cy="3305.7" r="13.8"/><circle cx="1895.2" cy="3315.3" r="13.8"/><circle cx="1911.7" cy="3315.3" r="13.8"/><circle cx="1901.2" cy="3330.3" r="13.8"/>
<circle cx="1904.2" cy="3345.3" r="13.8"/><circle cx="1934.3" cy="3333.3" r="13.8"/><circle cx="1962.8" cy="3325.2" r="13.8"/><circle cx="1821.6" cy="3345.3" r="13.8"/><circle cx="1839.6" cy="3354.4" r="13.8"/><circle cx="1836.6" cy="3363.4" r="13.8"/>
<circle cx="1851.6" cy="3375.4" r="13.8"/><circle cx="1803.5" cy="3379.9" r="13.8"/><circle cx="1889.2" cy="3370.9" r="13.8"/><circle cx="1877.2" cy="3387.4" r="13.8"/><circle cx="1910.2" cy="3378.4" r="13.8"/><circle cx="1928.2" cy="3375.4" r="13.8"/>
<circle cx="1943.3" cy="3360.4" r="13.8"/><circle cx="1958.3" cy="3357.4" r="13.8"/><circle cx="1970.3" cy="3354.4" r="13.8"/><circle cx="1949.3" cy="3378.4" r="13.8"/><circle cx="1973.3" cy="3387.4" r="13.8"/><circle cx="1457.1" cy="3411" r="13.8"/>
<circle cx="1548.8" cy="3399.5" r="13.8"/><circle cx="1417.1" cy="3448.5" r="13.8"/><circle cx="1483.2" cy="3451.5" r="13.8"/><circle cx="1592.3" cy="3413.1" r="13.8"/><circle cx="1607.4" cy="3395" r="13.8"/><circle cx="1628.4" cy="3420.6" r="13.8"/>
<circle cx="1646.4" cy="3395" r="13.8"/><circle cx="1661.5" cy="3410.1" r="13.8"/><circle cx="1646.4" cy="3437.1" r="13.8"/><circle cx="1653.9" cy="3453.6" r="13.8"/><circle cx="1679.5" cy="3398" r="13.8"/><circle cx="1694.5" cy="3401" r="13.8"/>
<circle cx="1685.5" cy="3428.1" r="13.8"/><circle cx="1685.5" cy="3452.1" r="13.8"/><circle cx="1709.5" cy="3410.1" r="13.8"/><circle cx="1718.6" cy="3437.1" r="13.8"/><circle cx="1730.6" cy="3416.1" r="13.8"/><circle cx="1742.6" cy="3392" r="13.8"/>
<circle cx="1754.6" cy="3407" r="13.8"/><circle cx="1766.6" cy="3425.1" r="13.8"/><circle cx="1760.6" cy="3398" r="13.8"/><circle cx="1790.7" cy="3392" r="13.8"/><circle cx="1784.7" cy="3413.1" r="13.8"/><circle cx="1503.7" cy="3490.6" r="13.8"/>
<circle cx="1494.7" cy="3511.3" r="13.8"/><circle cx="1667.5" cy="3479.2" r="13.8"/><circle cx="1685.5" cy="3486.7" r="13.8"/><circle cx="1688.5" cy="3500.2" r="13.8"/><circle cx="1682.5" cy="3521.2" r="13.8"/><circle cx="1697.5" cy="3515.2" r="13.8"/>
<circle cx="1703.5" cy="3533.3" r="13.8"/><circle cx="1614.9" cy="3519.7" r="13.8"/><circle cx="1640.4" cy="3515.2" r="13.8"/><circle cx="1646.4" cy="3524.3" r="13.8"/><circle cx="1622.4" cy="3536.3" r="13.8"/><circle cx="1607.4" cy="3548.3" r="13.8"/>
<circle cx="1560.8" cy="3534.2" r="13.8"/><circle cx="1532.2" cy="3545.3" r="13.8"/><circle cx="1523.2" cy="3558.8" r="13.8"/><circle cx="1403" cy="3554.3" r="13.8"/><circle cx="1452.6" cy="3582.9" r="13.8"/><circle cx="1655.4" cy="3569.3" r="13.8"/>
<circle cx="1670.5" cy="3566.3" r="13.8"/><circle cx="1682.5" cy="3567.8" r="13.8"/><circle cx="1655.4" cy="3581.4" r="13.8"/><circle cx="1676.5" cy="3581.4" r="13.8"/><circle cx="1500.7" cy="3612.9" r="13.8"/><circle cx="1532.2" cy="3620.1" r="13.8"/>
<circle cx="1578.8" cy="3611.4" r="13.8"/><circle cx="1610.4" cy="3617.4" r="13.8"/><circle cx="1724.6" cy="3527.3" r="13.8"/><circle cx="1724.6" cy="3551.3" r="13.8"/><circle cx="1733.6" cy="3488.2" r="13.8"/><circle cx="1742.6" cy="3467.2" r="13.8"/>
<circle cx="1775.7" cy="3440.1" r="13.8"/><circle cx="1800" cy="3425.1" r="13.8"/><circle cx="1790.7" cy="3455.1" r="13.8"/><circle cx="1799" cy="3392" r="13.8"/><circle cx="1805" cy="3419.1" r="13.8"/><circle cx="1790" cy="3410.1" r="13.8"/>
<circle cx="1850.1" cy="3383" r="13.8"/><circle cx="1874.1" cy="3392" r="13.8"/><circle cx="1898.2" cy="3408.5" r="13.8"/><circle cx="1889.2" cy="3401" r="13.8"/><circle cx="1916.2" cy="3386" r="13.8"/><circle cx="1940.3" cy="3383" r="13.8"/>
<circle cx="1958.3" cy="3386" r="13.8"/><circle cx="1973.3" cy="3395" r="13.8"/><circle cx="1952.3" cy="3413.1" r="13.8"/><circle cx="1982.3" cy="3425.1" r="13.8"/><circle cx="1866.6" cy="3420.6" r="13.8"/><circle cx="1814" cy="3437.1" r="13.8"/>
<circle cx="1790" cy="3440.1" r="13.8"/><circle cx="1499.2" cy="3616" r="13.8"/><circle cx="1517.2" cy="3626.5" r="13.8"/><circle cx="1541.2" cy="3628" r="13.8"/><circle cx="1577.3" cy="3614.5" r="13.8"/><circle cx="1608.9" cy="3623.5" r="13.8"/>
<circle cx="1616.4" cy="3643.1" r="13.8"/><circle cx="1580.3" cy="3655.1" r="13.8"/><circle cx="1595.3" cy="3662.6" r="13.8"/><circle cx="1610.4" cy="3662.6" r="13.8"/><circle cx="1497.7" cy="3657.5" r="13.8"/><circle cx="1500.7" cy="3683.6" r="13.8"/>
<circle cx="1500.7" cy="3692.6" r="13.8"/><circle cx="1511.8" cy="3724.2" r="13.8"/><circle cx="1575.2" cy="3719.1" r="13.8"/><circle cx="1609.5" cy="3730.2" r="13.8"/><circle cx="1628.4" cy="3691.1" r="13.8"/><circle cx="1637.4" cy="3703.2" r="13.8"/>
<circle cx="1649.4" cy="3700.2" r="13.8"/><circle cx="1664.5" cy="3728.7" r="13.8"/><circle cx="1580.3" cy="3773.8" r="13.8"/><circle cx="1607.4" cy="3775.3" r="13.8"/><circle cx="1628.4" cy="3769.3" r="13.8"/><circle cx="1664.5" cy="3785.8" r="13.8"/>
<circle cx="1709.5" cy="3788.8" r="13.8"/><circle cx="1745.6" cy="3789.7" r="13.8"/><circle cx="1778.7" cy="3789.7" r="13.8"/><circle cx="1643.4" cy="3619" r="13.8"/><circle cx="1655.4" cy="3646.1" r="13.8"/><circle cx="1658.5" cy="3670.1" r="13.8"/>
<circle cx="1985.3" cy="3719.7" r="13.8"/><circle cx="1997.4" cy="3739.2" r="13.8"/><circle cx="1964.3" cy="3724.2" r="13.8"/><circle cx="1937.3" cy="3787.3" r="13.8"/><circle cx="1916.2" cy="3788.8" r="13.8"/><circle cx="1820.1" cy="3789.7" r="13.8"/>
<circle cx="1850.1" cy="3787.3" r="13.8"/><circle cx="1859.1" cy="3788.8" r="13.8"/><circle cx="1997.4" cy="3628" r="13.8"/><circle cx="1970.3" cy="3682.1" r="13.8"/><circle cx="1727.6" cy="3357.3" r="13.8"/><circle cx="1743.4" cy="3361.8" r="13.8"/>
<circle cx="1741.2" cy="3377.6" r="13.8"/><circle cx="1711.9" cy="3404.7" r="13.8"/><circle cx="1725.4" cy="3409.2" r="13.8"/><circle cx="1696.1" cy="3400.2" r="13.8"/><circle cx="1680.3" cy="3395.6" r="13.8"/><circle cx="1702.9" cy="3443" r="13.8"/>
<circle cx="1727.6" cy="3436.2" r="13.8"/><circle cx="1743.4" cy="3418.2" r="13.8"/><circle cx="1756.9" cy="3422.7" r="13.8"/><circle cx="1770.5" cy="3427.2" r="13.8"/><circle cx="1781.7" cy="3436.2" r="13.8"/><circle cx="1747.9" cy="3436.2" r="13.8"/>
<circle cx="1754.7" cy="3400.2" r="13.8"/><circle cx="1766" cy="3404.7" r="13.8"/><circle cx="1793" cy="3377.6" r="13.8"/><circle cx="1788.5" cy="3395.6" r="13.8"/><circle cx="1797.5" cy="3411.4" r="13.8"/><circle cx="1680.3" cy="3436.2" r="13.8"/>
<circle cx="1657.8" cy="3406.9" r="13.8"/><circle cx="1644.3" cy="3393.4" r="13.8"/><circle cx="1976.1" cy="3393.4" r="13.8"/><circle cx="1982.9" cy="3409.2" r="13.8"/><circle cx="1986.2" cy="3425" r="13.8"/><circle cx="1960.3" cy="3409.2" r="13.8"/>
<circle cx="1951.3" cy="3384.4" r="13.8"/><circle cx="1937.8" cy="3368.6" r="13.8"/><circle cx="1955.8" cy="3355.1" r="13.8"/><circle cx="1793.5" cy="3384.4" r="13.8"/><circle cx="1798" cy="3400.2" r="13.8"/><circle cx="1807" cy="3418.2" r="13.8"/>
<circle cx="1786.8" cy="3411.4" r="13.8"/><circle cx="1816.1" cy="3427.2" r="13.8"/><circle cx="1991.9" cy="3476.8" r="13.8"/><circle cx="1989.6" cy="3463.3" r="13.8"/>
</g>
<line x1="524" y1="3542" x2="1998.5" y2="3604.8" stroke="#000" stroke-width="8.5" stroke-linecap="round"/>
<text class="d" x="1639" y="2947.9" font-size="73" text-anchor="end" textLength="86" lengthAdjust="spacingAndGlyphs">80</text>
<text class="d" x="1639" y="3055.9" font-size="73" text-anchor="end" textLength="86" lengthAdjust="spacingAndGlyphs">70</text>
<text class="d" x="1639" y="3163.9" font-size="73" text-anchor="end" textLength="86" lengthAdjust="spacingAndGlyphs">60</text>
<text class="d" x="1639" y="3271.9" font-size="73" text-anchor="end" textLength="86" lengthAdjust="spacingAndGlyphs">50</text>
<text class="d" x="1639" y="3379.9" font-size="73" text-anchor="end" textLength="86" lengthAdjust="spacingAndGlyphs">40</text>
<text class="d" x="1639" y="3487.9" font-size="73" text-anchor="end" textLength="86" lengthAdjust="spacingAndGlyphs">30</text>
<text class="d" x="1639" y="3595.9" font-size="73" text-anchor="end" textLength="86" lengthAdjust="spacingAndGlyphs">20</text>
<text class="d" x="1639" y="3703.9" font-size="73" text-anchor="end" textLength="86" lengthAdjust="spacingAndGlyphs">10</text>
<text class="d" x="1639" y="3811.9" font-size="73" text-anchor="end" textLength="43" lengthAdjust="spacingAndGlyphs">0</text>
<text class="d" x="212.2" y="3923" font-size="73" text-anchor="middle" textLength="71.4" lengthAdjust="spacingAndGlyphs">-4</text>
<text class="d" x="587.8" y="3923" font-size="73" text-anchor="middle" textLength="71.4" lengthAdjust="spacingAndGlyphs">-3</text>
<text class="d" x="963.6" y="3923" font-size="73" text-anchor="middle" textLength="71.4" lengthAdjust="spacingAndGlyphs">-2</text>
<text class="d" x="1339.2" y="3923" font-size="73" text-anchor="middle" textLength="71.4" lengthAdjust="spacingAndGlyphs">-1</text>
<text class="d" x="1714.8" y="3923" font-size="73" text-anchor="middle" textLength="44.6" lengthAdjust="spacingAndGlyphs">0</text>
<text class="d" x="2090.2" y="3923" font-size="73" text-anchor="middle" textLength="44.6" lengthAdjust="spacingAndGlyphs">1</text>
<text class="d" x="1150" y="4043.4" font-size="70" text-anchor="middle" textLength="130.5" lengthAdjust="spacingAndGlyphs">NSF</text>
<text class="d" transform="translate(181 3459.2) rotate(-90)" font-size="76"><tspan x="-5" textLength="84.7" lengthAdjust="spacingAndGlyphs">PB</tspan> <tspan x="106.1" textLength="107.5" lengthAdjust="spacingAndGlyphs">(%)</tspan></text>
<text class="d" x="1007.6" y="3137" font-size="63" text-anchor="middle" textLength="624.8" lengthAdjust="spacingAndGlyphs">y = -1.4899x + 18.068</text>
<text class="d" y="3224.4" font-size="63"><tspan x="838.1" textLength="37.5" lengthAdjust="spacingAndGlyphs">R</tspan><tspan x="878.5" textLength="21.2" lengthAdjust="spacingAndGlyphs" dy="-6">²</tspan> <tspan x="919" textLength="32" lengthAdjust="spacingAndGlyphs" dy="6">=</tspan> <tspan x="968.7" textLength="201.6" lengthAdjust="spacingAndGlyphs">0.0024</tspan></text>
</g>
<text class="cap" x="1105.5" y="4229.1" font-size="88" text-anchor="middle" textLength="96.7" lengthAdjust="spacingAndGlyphs">(<tspan class="b">d</tspan>)</text>
<defs><filter id="soft" x="-2%" y="-2%" width="104%" height="104%"><feGaussianBlur stdDeviation="0.9"/></filter></defs>
</svg>
</body>
</html>
